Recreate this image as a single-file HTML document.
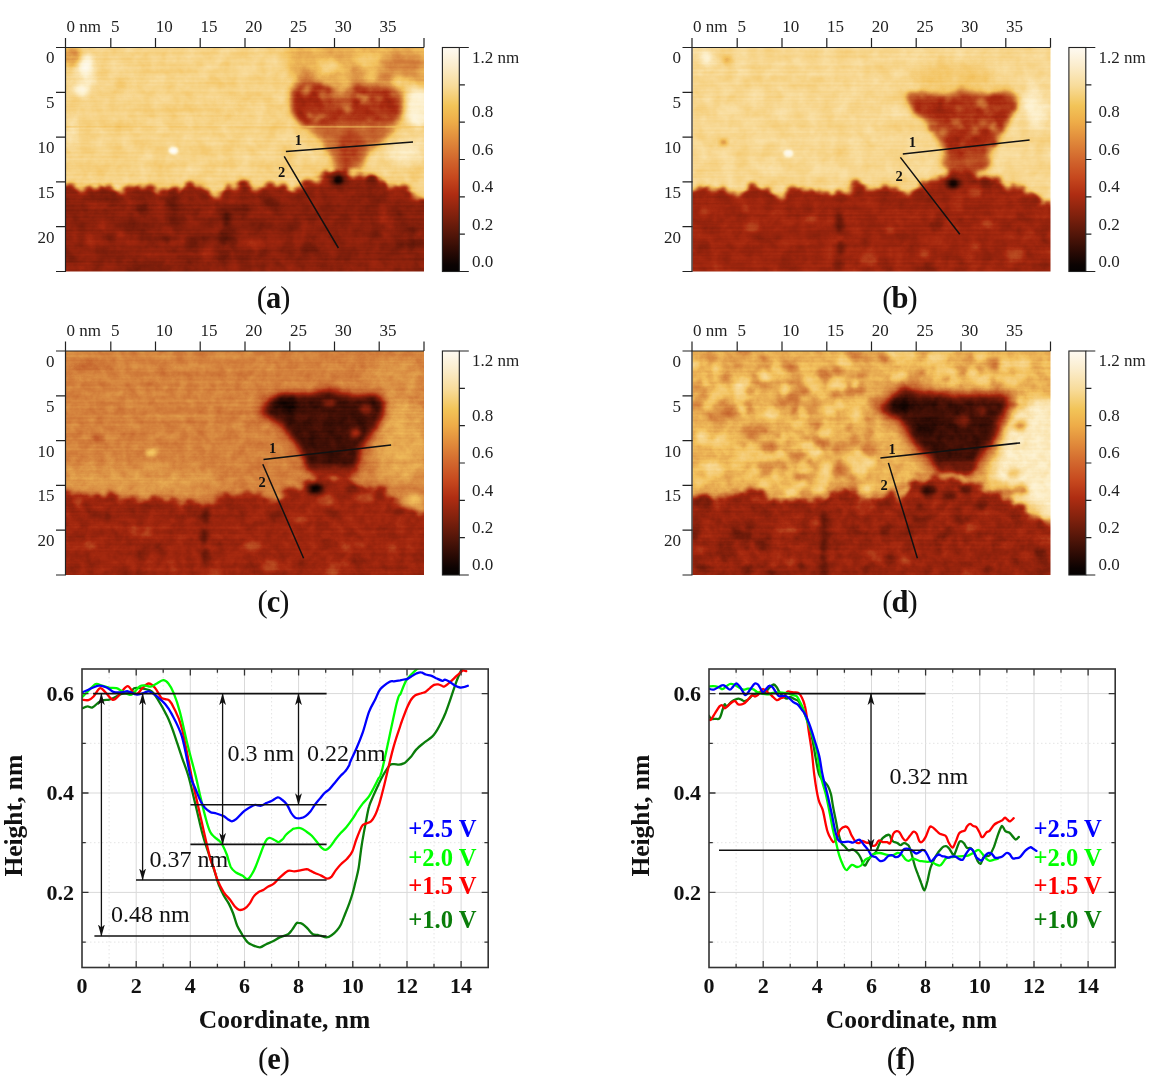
<!DOCTYPE html><html><head><meta charset="utf-8"><title>STM profiles</title><style>
html,body{margin:0;padding:0;background:#fff;width:1155px;height:1080px;overflow:hidden}
svg{display:block;position:absolute;left:0;top:0}
text{font-family:'Liberation Serif','Times New Roman',serif}
.tk{font-size:17px;fill:#222}
.bl{font-size:22px;font-weight:bold;fill:#111}
.at{font-size:25.5px;font-weight:bold;fill:#111}
.an{font-size:24px;fill:#111}
.lg{font-size:24.6px;font-weight:bold}
.pl{font-size:30.5px;fill:#111;letter-spacing:-1px}
.ln{font-size:14.5px;font-weight:bold;fill:#111}
</style></head><body>
<svg width="1155" height="1080" viewBox="0 0 1155 1080">
<rect width="1155" height="1080" fill="#fff"/>
<defs>
<linearGradient id="cbar" x1="0" y1="0" x2="0" y2="1"><stop offset="0.000" stop-color="rgb(254,250,242)"/><stop offset="0.080" stop-color="rgb(251,237,205)"/><stop offset="0.170" stop-color="rgb(248,220,155)"/><stop offset="0.260" stop-color="rgb(242,196,88)"/><stop offset="0.333" stop-color="rgb(238,172,72)"/><stop offset="0.500" stop-color="rgb(210,102,45)"/><stop offset="0.580" stop-color="rgb(198,72,30)"/><stop offset="0.655" stop-color="rgb(175,45,18)"/><stop offset="0.750" stop-color="rgb(128,33,13)"/><stop offset="0.833" stop-color="rgb(84,22,9)"/><stop offset="0.920" stop-color="rgb(38,9,4)"/><stop offset="0.970" stop-color="rgb(12,3,2)"/><stop offset="1.000" stop-color="rgb(5,2,2)"/></linearGradient>
<filter id="stm0" x="-5%" y="-5%" width="110%" height="110%" color-interpolation-filters="sRGB">
<feGaussianBlur in="SourceGraphic" stdDeviation="0.4" result="b"/>
<feTurbulence type="fractalNoise" baseFrequency="0.07" numOctaves="3" seed="3" result="n"/>
<feColorMatrix in="n" type="matrix" values="1 0 0 0 0 1 0 0 0 0 1 0 0 0 0 0 0 0 0 1" result="ng"/>
<feTurbulence type="fractalNoise" baseFrequency="0.004 0.45" numOctaves="1" seed="11" result="s"/>
<feColorMatrix in="s" type="matrix" values="1 0 0 0 0 1 0 0 0 0 1 0 0 0 0 0 0 0 0 1" result="sg"/>
<feComposite in="b" in2="ng" operator="arithmetic" k1="0" k2="1" k3="0.12" k4="-0.06" result="h1"/>
<feComposite in="h1" in2="sg" operator="arithmetic" k1="0" k2="1" k3="0.07" k4="-0.035" result="h"/>
<feComponentTransfer in="h"><feFuncR type="table" tableValues="0.000 0.048 0.095 0.143 0.191 0.239 0.286 0.334 0.382 0.430 0.477 0.525 0.573 0.621 0.664 0.688 0.712 0.736 0.760 0.784 0.808 0.832 0.856 0.880 0.904 0.928 0.952 0.958 0.963 0.967 0.972 0.977 0.982 0.987 0.992 0.993 0.995 0.996 0.997 0.999 1.000"/><feFuncG type="table" tableValues="0.000 0.011 0.023 0.034 0.045 0.057 0.068 0.080 0.091 0.102 0.114 0.125 0.136 0.148 0.167 0.216 0.265 0.315 0.364 0.413 0.463 0.512 0.561 0.611 0.660 0.709 0.759 0.782 0.805 0.828 0.850 0.873 0.895 0.918 0.940 0.951 0.961 0.970 0.980 0.990 1.000"/><feFuncB type="table" tableValues="0.000 0.004 0.009 0.013 0.017 0.021 0.026 0.030 0.034 0.038 0.043 0.047 0.051 0.055 0.064 0.089 0.114 0.139 0.164 0.189 0.214 0.239 0.264 0.289 0.314 0.339 0.364 0.417 0.471 0.526 0.580 0.635 0.689 0.743 0.798 0.832 0.866 0.899 0.933 0.966 1.000"/><feFuncA type="linear" slope="0" intercept="1"/></feComponentTransfer>
</filter>
<clipPath id="clip0"><rect x="66" y="47.5" width="358" height="224"/></clipPath>
<filter id="stm1" x="-5%" y="-5%" width="110%" height="110%" color-interpolation-filters="sRGB">
<feGaussianBlur in="SourceGraphic" stdDeviation="0.4" result="b"/>
<feTurbulence type="fractalNoise" baseFrequency="0.07" numOctaves="3" seed="4" result="n"/>
<feColorMatrix in="n" type="matrix" values="1 0 0 0 0 1 0 0 0 0 1 0 0 0 0 0 0 0 0 1" result="ng"/>
<feTurbulence type="fractalNoise" baseFrequency="0.004 0.45" numOctaves="1" seed="12" result="s"/>
<feColorMatrix in="s" type="matrix" values="1 0 0 0 0 1 0 0 0 0 1 0 0 0 0 0 0 0 0 1" result="sg"/>
<feComposite in="b" in2="ng" operator="arithmetic" k1="0" k2="1" k3="0.11" k4="-0.055" result="h1"/>
<feComposite in="h1" in2="sg" operator="arithmetic" k1="0" k2="1" k3="0.07" k4="-0.035" result="h"/>
<feComponentTransfer in="h"><feFuncR type="table" tableValues="0.000 0.048 0.095 0.143 0.191 0.239 0.286 0.334 0.382 0.430 0.477 0.525 0.573 0.621 0.664 0.688 0.712 0.736 0.760 0.784 0.808 0.832 0.856 0.880 0.904 0.928 0.952 0.958 0.963 0.967 0.972 0.977 0.982 0.987 0.992 0.993 0.995 0.996 0.997 0.999 1.000"/><feFuncG type="table" tableValues="0.000 0.011 0.023 0.034 0.045 0.057 0.068 0.080 0.091 0.102 0.114 0.125 0.136 0.148 0.167 0.216 0.265 0.315 0.364 0.413 0.463 0.512 0.561 0.611 0.660 0.709 0.759 0.782 0.805 0.828 0.850 0.873 0.895 0.918 0.940 0.951 0.961 0.970 0.980 0.990 1.000"/><feFuncB type="table" tableValues="0.000 0.004 0.009 0.013 0.017 0.021 0.026 0.030 0.034 0.038 0.043 0.047 0.051 0.055 0.064 0.089 0.114 0.139 0.164 0.189 0.214 0.239 0.264 0.289 0.314 0.339 0.364 0.417 0.471 0.526 0.580 0.635 0.689 0.743 0.798 0.832 0.866 0.899 0.933 0.966 1.000"/><feFuncA type="linear" slope="0" intercept="1"/></feComponentTransfer>
</filter>
<clipPath id="clip1"><rect x="692.5" y="47.5" width="358" height="224"/></clipPath>
<filter id="stm2" x="-5%" y="-5%" width="110%" height="110%" color-interpolation-filters="sRGB">
<feGaussianBlur in="SourceGraphic" stdDeviation="0.4" result="b"/>
<feTurbulence type="fractalNoise" baseFrequency="0.1" numOctaves="3" seed="5" result="n"/>
<feColorMatrix in="n" type="matrix" values="1 0 0 0 0 1 0 0 0 0 1 0 0 0 0 0 0 0 0 1" result="ng"/>
<feTurbulence type="fractalNoise" baseFrequency="0.004 0.45" numOctaves="1" seed="13" result="s"/>
<feColorMatrix in="s" type="matrix" values="1 0 0 0 0 1 0 0 0 0 1 0 0 0 0 0 0 0 0 1" result="sg"/>
<feComposite in="b" in2="ng" operator="arithmetic" k1="0" k2="1" k3="0.1" k4="-0.05" result="h1"/>
<feComposite in="h1" in2="sg" operator="arithmetic" k1="0" k2="1" k3="0.06" k4="-0.03" result="h"/>
<feComponentTransfer in="h"><feFuncR type="table" tableValues="0.000 0.048 0.095 0.143 0.191 0.239 0.286 0.334 0.382 0.430 0.477 0.525 0.573 0.621 0.664 0.688 0.712 0.736 0.760 0.784 0.808 0.832 0.856 0.880 0.904 0.928 0.952 0.958 0.963 0.967 0.972 0.977 0.982 0.987 0.992 0.993 0.995 0.996 0.997 0.999 1.000"/><feFuncG type="table" tableValues="0.000 0.011 0.023 0.034 0.045 0.057 0.068 0.080 0.091 0.102 0.114 0.125 0.136 0.148 0.167 0.216 0.265 0.315 0.364 0.413 0.463 0.512 0.561 0.611 0.660 0.709 0.759 0.782 0.805 0.828 0.850 0.873 0.895 0.918 0.940 0.951 0.961 0.970 0.980 0.990 1.000"/><feFuncB type="table" tableValues="0.000 0.004 0.009 0.013 0.017 0.021 0.026 0.030 0.034 0.038 0.043 0.047 0.051 0.055 0.064 0.089 0.114 0.139 0.164 0.189 0.214 0.239 0.264 0.289 0.314 0.339 0.364 0.417 0.471 0.526 0.580 0.635 0.689 0.743 0.798 0.832 0.866 0.899 0.933 0.966 1.000"/><feFuncA type="linear" slope="0" intercept="1"/></feComponentTransfer>
</filter>
<clipPath id="clip2"><rect x="66" y="351" width="358" height="224"/></clipPath>
<filter id="stm3" x="-5%" y="-5%" width="110%" height="110%" color-interpolation-filters="sRGB">
<feGaussianBlur in="SourceGraphic" stdDeviation="0.4" result="b"/>
<feTurbulence type="fractalNoise" baseFrequency="0.1" numOctaves="3" seed="6" result="n"/>
<feColorMatrix in="n" type="matrix" values="1 0 0 0 0 1 0 0 0 0 1 0 0 0 0 0 0 0 0 1" result="ng"/>
<feTurbulence type="fractalNoise" baseFrequency="0.004 0.45" numOctaves="1" seed="14" result="s"/>
<feColorMatrix in="s" type="matrix" values="1 0 0 0 0 1 0 0 0 0 1 0 0 0 0 0 0 0 0 1" result="sg"/>
<feComposite in="b" in2="ng" operator="arithmetic" k1="0" k2="1" k3="0.12" k4="-0.06" result="h1"/>
<feComposite in="h1" in2="sg" operator="arithmetic" k1="0" k2="1" k3="0.06" k4="-0.03" result="h"/>
<feComponentTransfer in="h"><feFuncR type="table" tableValues="0.000 0.048 0.095 0.143 0.191 0.239 0.286 0.334 0.382 0.430 0.477 0.525 0.573 0.621 0.664 0.688 0.712 0.736 0.760 0.784 0.808 0.832 0.856 0.880 0.904 0.928 0.952 0.958 0.963 0.967 0.972 0.977 0.982 0.987 0.992 0.993 0.995 0.996 0.997 0.999 1.000"/><feFuncG type="table" tableValues="0.000 0.011 0.023 0.034 0.045 0.057 0.068 0.080 0.091 0.102 0.114 0.125 0.136 0.148 0.167 0.216 0.265 0.315 0.364 0.413 0.463 0.512 0.561 0.611 0.660 0.709 0.759 0.782 0.805 0.828 0.850 0.873 0.895 0.918 0.940 0.951 0.961 0.970 0.980 0.990 1.000"/><feFuncB type="table" tableValues="0.000 0.004 0.009 0.013 0.017 0.021 0.026 0.030 0.034 0.038 0.043 0.047 0.051 0.055 0.064 0.089 0.114 0.139 0.164 0.189 0.214 0.239 0.264 0.289 0.314 0.339 0.364 0.417 0.471 0.526 0.580 0.635 0.689 0.743 0.798 0.832 0.866 0.899 0.933 0.966 1.000"/><feFuncA type="linear" slope="0" intercept="1"/></feComponentTransfer>
</filter>
<clipPath id="clip3"><rect x="692.5" y="351" width="358" height="224"/></clipPath>
<clipPath id="cpe"><rect x="82" y="669" width="406.5" height="298.5"/></clipPath>
<clipPath id="cpf"><rect x="709" y="669" width="406" height="298.5"/></clipPath>
<marker id="ah" viewBox="0 0 12 8" refX="11.5" refY="4" markerWidth="12" markerHeight="8" markerUnits="userSpaceOnUse" orient="auto-start-reverse"><path d="M0,0.6 L12,4 L0,7.4 L3,4Z" fill="#111"/></marker>
<filter id="bl1_5" x="-30%" y="-30%" width="160%" height="160%" color-interpolation-filters="sRGB"><feGaussianBlur stdDeviation="1.5"/></filter>
<filter id="bl1_6" x="-30%" y="-30%" width="160%" height="160%" color-interpolation-filters="sRGB"><feGaussianBlur stdDeviation="1.6"/></filter>
<filter id="bl2" x="-30%" y="-30%" width="160%" height="160%" color-interpolation-filters="sRGB"><feGaussianBlur stdDeviation="2"/></filter>
<filter id="bl2_2" x="-30%" y="-30%" width="160%" height="160%" color-interpolation-filters="sRGB"><feGaussianBlur stdDeviation="2.2"/></filter>
<filter id="bl2_4" x="-30%" y="-30%" width="160%" height="160%" color-interpolation-filters="sRGB"><feGaussianBlur stdDeviation="2.4"/></filter>
<filter id="bl2_5" x="-30%" y="-30%" width="160%" height="160%" color-interpolation-filters="sRGB"><feGaussianBlur stdDeviation="2.5"/></filter>
<filter id="bl3" x="-30%" y="-30%" width="160%" height="160%" color-interpolation-filters="sRGB"><feGaussianBlur stdDeviation="3"/></filter>
<filter id="bl3_4" x="-30%" y="-30%" width="160%" height="160%" color-interpolation-filters="sRGB"><feGaussianBlur stdDeviation="3.4"/></filter>
<filter id="bl3_5" x="-30%" y="-30%" width="160%" height="160%" color-interpolation-filters="sRGB"><feGaussianBlur stdDeviation="3.5"/></filter>
<filter id="bl4" x="-30%" y="-30%" width="160%" height="160%" color-interpolation-filters="sRGB"><feGaussianBlur stdDeviation="4"/></filter>
<filter id="bl4_5" x="-30%" y="-30%" width="160%" height="160%" color-interpolation-filters="sRGB"><feGaussianBlur stdDeviation="4.5"/></filter>
<filter id="bl5" x="-30%" y="-30%" width="160%" height="160%" color-interpolation-filters="sRGB"><feGaussianBlur stdDeviation="5"/></filter>
<filter id="bl6" x="-30%" y="-30%" width="160%" height="160%" color-interpolation-filters="sRGB"><feGaussianBlur stdDeviation="6"/></filter>
<filter id="bl7" x="-30%" y="-30%" width="160%" height="160%" color-interpolation-filters="sRGB"><feGaussianBlur stdDeviation="7"/></filter>
</defs>
<g clip-path="url(#clip0)"><g filter="url(#stm0)" transform="translate(66,47.5)">
<rect x="-12" y="-12" width="382" height="248" fill="rgb(185,185,185)"/>
<g filter="url(#bl4)">
<path d="M232,-5C254.2,-11.8 342.8,-12.5 365,-5C387.2,2.5 369.2,33.8 365,40C360.8,46.2 350.8,33.7 340,32C329.2,30.3 314.2,30.3 300,30C285.8,29.7 266.3,29 255,30C243.7,31 235.8,41.8 232,36C228.2,30.2 209.8,1.8 232,-5Z" fill="rgb(158,158,158)"/>
<ellipse cx="338" cy="16" rx="20" ry="13" fill="rgb(133,133,133)"/>
</g>
<g filter="url(#bl3)">
<ellipse cx="262" cy="20" rx="9" ry="8" fill="rgb(186,186,186)"/>
<ellipse cx="240" cy="28" rx="8" ry="6" fill="rgb(140,140,140)"/>
<ellipse cx="318" cy="28" rx="9" ry="6" fill="rgb(140,140,140)"/>
<ellipse cx="290" cy="22" rx="6" ry="5" fill="rgb(143,143,143)"/>
<ellipse cx="300" cy="12" rx="10" ry="7" fill="rgb(178,178,178)"/>
</g>
<g filter="url(#bl4_5)">
<path d="M226,40C228.3,35.7 234.3,33.2 240,32C245.7,30.8 253.8,33.3 260,33C266.2,32.7 270.3,29.8 277,30C283.7,30.2 292.5,32.7 300,34C307.5,35.3 315.8,36 322,38C328.2,40 334.5,42 337,46C339.5,50 338.2,57.3 337,62C335.8,66.7 332.2,71 330,74C327.8,77 338,79 324,80C310,81 260.7,81.3 246,80C231.3,78.7 239.3,75.7 236,72C232.7,68.3 227.7,63.3 226,58C224.3,52.7 223.7,44.3 226,40Z" fill="rgb(107,107,107)"/>
</g>
<g filter="url(#bl3)">
<ellipse cx="243" cy="57" rx="17" ry="21" fill="rgb(89,89,89)"/>
<ellipse cx="315" cy="60" rx="19" ry="17" fill="rgb(92,92,92)"/>
<ellipse cx="280" cy="70" rx="30" ry="9" fill="rgb(94,94,94)"/>
</g>
<g filter="url(#bl3_5)">
<ellipse cx="272" cy="36" rx="14" ry="12" fill="rgb(158,158,158)"/>
</g>
<g filter="url(#bl2)">
<ellipse cx="296" cy="50" rx="7" ry="6" fill="rgb(133,133,133)"/>
<ellipse cx="258" cy="48" rx="5" ry="5" fill="rgb(128,128,128)"/>
</g>
<g filter="url(#bl2_2)">
<ellipse cx="270.4" cy="65.5" rx="2" ry="1.6" fill="rgb(84,84,84)"/>
<ellipse cx="243.9" cy="68.1" rx="2.9" ry="2.7" fill="rgb(128,128,128)"/>
<ellipse cx="284.8" cy="43.4" rx="2.8" ry="2.9" fill="rgb(128,128,128)"/>
<ellipse cx="264.9" cy="43.5" rx="3.2" ry="1.9" fill="rgb(84,84,84)"/>
<ellipse cx="273" cy="64.5" rx="1.8" ry="1.4" fill="rgb(84,84,84)"/>
<ellipse cx="250" cy="72.5" rx="3.3" ry="3.6" fill="rgb(128,128,128)"/>
<ellipse cx="298.3" cy="44" rx="4.4" ry="2.4" fill="rgb(84,84,84)"/>
<ellipse cx="280.1" cy="46.1" rx="3" ry="2.1" fill="rgb(115,115,115)"/>
<ellipse cx="261.1" cy="42.1" rx="3.7" ry="2.8" fill="rgb(79,79,79)"/>
<ellipse cx="313.7" cy="51.2" rx="4.7" ry="2.8" fill="rgb(115,115,115)"/>
<ellipse cx="249.3" cy="54.9" rx="3.8" ry="3.3" fill="rgb(79,79,79)"/>
<ellipse cx="256.9" cy="74.2" rx="4.5" ry="2.2" fill="rgb(84,84,84)"/>
<ellipse cx="305.1" cy="73.3" rx="3.2" ry="2.7" fill="rgb(115,115,115)"/>
<ellipse cx="280.9" cy="61.2" rx="4" ry="3.4" fill="rgb(128,128,128)"/>
<ellipse cx="255.5" cy="69.2" rx="4" ry="2.4" fill="rgb(128,128,128)"/>
<ellipse cx="290.9" cy="54.5" rx="3.5" ry="3.3" fill="rgb(79,79,79)"/>
<ellipse cx="313.2" cy="77.5" rx="4.5" ry="3.1" fill="rgb(128,128,128)"/>
<ellipse cx="252.5" cy="43" rx="3.2" ry="3" fill="rgb(115,115,115)"/>
<ellipse cx="242.4" cy="39.7" rx="4.4" ry="3.5" fill="rgb(128,128,128)"/>
<ellipse cx="290.6" cy="41.6" rx="3.2" ry="2.9" fill="rgb(84,84,84)"/>
<ellipse cx="254.5" cy="74.6" rx="3.2" ry="1.7" fill="rgb(84,84,84)"/>
<ellipse cx="327.3" cy="46.4" rx="3.2" ry="3.1" fill="rgb(115,115,115)"/>
<ellipse cx="256" cy="43.3" rx="3.7" ry="2.8" fill="rgb(128,128,128)"/>
<ellipse cx="269.5" cy="43.1" rx="2.4" ry="2.1" fill="rgb(115,115,115)"/>
<ellipse cx="240.1" cy="43.9" rx="5.2" ry="3.5" fill="rgb(128,128,128)"/>
<ellipse cx="276.8" cy="64" rx="3.5" ry="2.1" fill="rgb(84,84,84)"/>
<ellipse cx="260.1" cy="55.8" rx="1.6" ry="1.5" fill="rgb(115,115,115)"/>
<ellipse cx="260.4" cy="76" rx="3.3" ry="2.9" fill="rgb(84,84,84)"/>
<ellipse cx="253.8" cy="40.6" rx="4.1" ry="3.1" fill="rgb(84,84,84)"/>
<ellipse cx="281.2" cy="48.1" rx="4" ry="2.1" fill="rgb(128,128,128)"/>
</g>
<g filter="url(#bl3)">
<path d="M247,79C258.7,76.8 312.2,76.8 324,79C335.8,81.2 322,86.8 318,92C314,97.2 304,105 300,110C296,115 298.7,119.7 294,122C289.3,124.3 276.8,126 272,124C267.2,122 268,115.3 265,110C262,104.7 257,97.2 254,92C251,86.8 235.3,81.2 247,79Z" fill="rgb(120,120,120)"/>
<ellipse cx="285" cy="95" rx="13" ry="14" fill="rgb(102,102,102)"/>
<ellipse cx="282" cy="112" rx="9" ry="9" fill="rgb(105,105,105)"/>
</g>
<g filter="url(#bl4)">
<ellipse cx="352" cy="60" rx="12" ry="20" fill="rgb(222,222,222)"/>
<ellipse cx="340" cy="105" rx="18" ry="14" fill="rgb(204,204,204)"/>
<ellipse cx="20" cy="28" rx="8" ry="18" fill="rgb(209,209,209)"/>
</g>
<g filter="url(#bl3)">
<ellipse cx="6" cy="9" rx="9" ry="11" fill="rgb(143,143,143)"/>
<ellipse cx="20" cy="17" rx="6" ry="10" fill="rgb(240,240,240)"/>
<ellipse cx="14" cy="42" rx="7" ry="6" fill="rgb(232,232,232)"/>
</g>
<g filter="url(#bl4)">
<ellipse cx="5" cy="80" rx="5" ry="12" fill="rgb(204,204,204)"/>
</g>
<g filter="url(#bl1_5)">
<ellipse cx="107.5" cy="103" rx="4.5" ry="3.5" fill="rgb(250,250,250)"/>
</g>
<g filter="url(#bl3)">
<ellipse cx="60" cy="40" rx="6" ry="5" fill="rgb(178,178,178)"/>
<ellipse cx="160" cy="60" rx="8" ry="6" fill="rgb(184,184,184)"/>
</g>
<g filter="url(#bl1_6)">
<path d="M-15,138.8C-12.8,121.9 -4.6,138.8 -2,138.8C0.6,138.8 -1.5,138.4 0.6,138.8C2.7,139.2 7.4,141.2 10.4,141.3C13.4,141.4 15.9,140.3 18.7,139.6C21.4,138.9 24.4,137.6 26.9,137.2C29.4,136.8 31.3,136.6 33.5,137.2C35.7,137.8 37.6,139.6 40.1,140.5C42.6,141.4 45.6,142.3 48.3,142.9C51,143.5 54,143.8 56.5,143.8C59,143.8 60.9,143.7 63.1,142.9C65.3,142.1 67.5,139.8 69.7,138.8C71.9,137.9 74.1,136.9 76.3,137.2C78.5,137.5 80.6,139.1 82.8,140.5C85,141.9 87.2,144.3 89.4,145.4C91.6,146.5 93.8,147.4 96,147C98.2,146.6 100.7,143.7 102.6,142.9C104.5,142.1 105.9,141.7 107.5,142.1C109.1,142.5 110.8,145.7 112.4,145.4C114.1,145.1 115.8,141.9 117.4,140.5C119.1,139.1 120.7,137.5 122.3,137.2C123.9,136.9 125.3,137.7 127.2,138.8C129.1,139.9 131.6,142.7 133.8,143.8C136,144.9 138.2,144.9 140.4,145.4C142.6,145.9 144.8,147 147,147C149.2,147 151.4,146.2 153.6,145.4C155.8,144.6 157.6,143.5 160.1,142.1C162.6,140.7 166.1,138.1 168.4,137.2C170.7,136.3 171.7,136.4 174,136.5C176.3,136.6 179.5,137.4 182.2,137.9C184.9,138.4 187.7,139.1 190.4,139.5C193.2,139.9 195.9,140.3 198.7,140.3C201.4,140.3 204.2,139.5 206.9,139.5C209.6,139.5 212.3,139.6 215.1,140.3C217.8,141 220.9,142.9 223.4,143.6C225.9,144.3 227.7,144.8 229.9,144.5C232.1,144.2 234.3,143.5 236.5,142C238.7,140.5 240.9,137.3 243.1,135.4C245.3,133.5 247.5,131.9 249.7,130.5C251.9,129.1 254,128 256.2,127.2C258.4,126.4 260.6,125.9 262.8,125.5C265,125.1 267.2,124.7 269.4,124.7C271.6,124.7 273.8,125.6 276,125.5C278.2,125.4 280.4,124 282.6,123.9C284.8,123.8 287,124.4 289.2,124.7C291.4,125 293.5,125.1 295.7,125.5C297.9,125.9 300.1,126.7 302.3,127.2C304.5,127.8 306.7,128 308.9,128.8C311.1,129.6 313.3,130.7 315.5,132.1C317.7,133.5 319.8,136 322,137C324.2,138 326.4,137.3 328.6,137.9C330.8,138.5 333,139.4 335.2,140.3C337.4,141.2 339.6,142.5 341.8,143.6C344,144.7 346.2,145.8 348.4,146.9C350.6,148 353.4,149.5 355,150.2C356.6,150.9 357,150.7 358.2,151C359.4,151.3 359.2,151.8 362,152C364.8,152.2 372.8,137.3 375,152C377.2,166.7 440,225.3 375,240C310,254.7 50,256.9 -15,240C-80,223.1 -17.2,155.7 -15,138.8Z" fill="rgb(73,73,73)"/>
</g>
<g filter="url(#bl2)">
<ellipse cx="4.2" cy="139.1" rx="4.6" ry="3" fill="rgb(73,73,73)"/>
<ellipse cx="15.9" cy="141.3" rx="4.8" ry="3.9" fill="rgb(184,184,184)"/>
<ellipse cx="28.9" cy="138.3" rx="5.1" ry="3.7" fill="rgb(184,184,184)"/>
<ellipse cx="42.9" cy="140.6" rx="3.7" ry="3.4" fill="rgb(73,73,73)"/>
<ellipse cx="55.9" cy="144.6" rx="3.9" ry="2.8" fill="rgb(184,184,184)"/>
<ellipse cx="63" cy="142.1" rx="6.2" ry="4.1" fill="rgb(73,73,73)"/>
<ellipse cx="77" cy="138.4" rx="4.2" ry="2.9" fill="rgb(184,184,184)"/>
<ellipse cx="84.7" cy="141.1" rx="5.9" ry="3.8" fill="rgb(73,73,73)"/>
<ellipse cx="97.4" cy="145.3" rx="5.3" ry="4.5" fill="rgb(73,73,73)"/>
<ellipse cx="109.4" cy="142.6" rx="5.7" ry="3.7" fill="rgb(73,73,73)"/>
<ellipse cx="123.5" cy="137" rx="4.3" ry="3.1" fill="rgb(73,73,73)"/>
<ellipse cx="133.6" cy="142.9" rx="4.7" ry="3.8" fill="rgb(73,73,73)"/>
<ellipse cx="140.4" cy="144.9" rx="4" ry="2.8" fill="rgb(73,73,73)"/>
<ellipse cx="150.8" cy="147.3" rx="6.1" ry="4" fill="rgb(184,184,184)"/>
<ellipse cx="163.1" cy="139.7" rx="3.3" ry="3.1" fill="rgb(73,73,73)"/>
<ellipse cx="170.1" cy="138.3" rx="6.1" ry="4.2" fill="rgb(184,184,184)"/>
<ellipse cx="177.7" cy="136.4" rx="5.9" ry="3.8" fill="rgb(73,73,73)"/>
<ellipse cx="190" cy="140.6" rx="5" ry="4" fill="rgb(184,184,184)"/>
<ellipse cx="204.1" cy="138.9" rx="5.6" ry="4.4" fill="rgb(73,73,73)"/>
<ellipse cx="217.1" cy="140.3" rx="4.9" ry="3.9" fill="rgb(73,73,73)"/>
<ellipse cx="232.3" cy="143" rx="4.3" ry="3.1" fill="rgb(73,73,73)"/>
<ellipse cx="241.3" cy="136.3" rx="6.7" ry="4.3" fill="rgb(73,73,73)"/>
<ellipse cx="251.2" cy="131" rx="6.1" ry="4.3" fill="rgb(184,184,184)"/>
<ellipse cx="259.7" cy="125.7" rx="3.1" ry="2.8" fill="rgb(73,73,73)"/>
<ellipse cx="272.2" cy="124.5" rx="3.5" ry="2.6" fill="rgb(73,73,73)"/>
<ellipse cx="280.2" cy="123.9" rx="4.4" ry="3.2" fill="rgb(73,73,73)"/>
<ellipse cx="287.8" cy="125.9" rx="6.4" ry="4.5" fill="rgb(184,184,184)"/>
<ellipse cx="299.3" cy="127.5" rx="5.4" ry="3.5" fill="rgb(184,184,184)"/>
<ellipse cx="313.1" cy="131.7" rx="4" ry="2.6" fill="rgb(184,184,184)"/>
<ellipse cx="325.3" cy="138.5" rx="3.9" ry="3.5" fill="rgb(184,184,184)"/>
<ellipse cx="338.3" cy="141" rx="5.3" ry="4.1" fill="rgb(73,73,73)"/>
<ellipse cx="350.1" cy="148.7" rx="5" ry="3.2" fill="rgb(184,184,184)"/>
</g>
<g filter="url(#bl3)">
<ellipse cx="5" cy="145.9" rx="7" ry="3" fill="rgb(74,74,74)"/>
<ellipse cx="22" cy="144.6" rx="7" ry="3" fill="rgb(74,74,74)"/>
<ellipse cx="39" cy="145.9" rx="7" ry="3" fill="rgb(74,74,74)"/>
<ellipse cx="56" cy="149.7" rx="7" ry="3" fill="rgb(74,74,74)"/>
<ellipse cx="73" cy="144" rx="7" ry="3" fill="rgb(74,74,74)"/>
<ellipse cx="90" cy="151.5" rx="7" ry="3" fill="rgb(74,74,74)"/>
<ellipse cx="107" cy="148.2" rx="7" ry="3" fill="rgb(74,74,74)"/>
<ellipse cx="124" cy="143.8" rx="7" ry="3" fill="rgb(74,74,74)"/>
<ellipse cx="141" cy="151.5" rx="7" ry="3" fill="rgb(74,74,74)"/>
<ellipse cx="158" cy="149.2" rx="7" ry="3" fill="rgb(74,74,74)"/>
<ellipse cx="175" cy="142.7" rx="7" ry="3" fill="rgb(74,74,74)"/>
<ellipse cx="192" cy="145.7" rx="7" ry="3" fill="rgb(74,74,74)"/>
<ellipse cx="209" cy="145.7" rx="7" ry="3" fill="rgb(74,74,74)"/>
<ellipse cx="226" cy="150" rx="7" ry="3" fill="rgb(74,74,74)"/>
<ellipse cx="243" cy="141.5" rx="7" ry="3" fill="rgb(74,74,74)"/>
<ellipse cx="260" cy="132.2" rx="7" ry="3" fill="rgb(74,74,74)"/>
<ellipse cx="277" cy="131.3" rx="7" ry="3" fill="rgb(74,74,74)"/>
<ellipse cx="294" cy="131.3" rx="7" ry="3" fill="rgb(74,74,74)"/>
<ellipse cx="311" cy="135.8" rx="7" ry="3" fill="rgb(74,74,74)"/>
<ellipse cx="328" cy="143.8" rx="7" ry="3" fill="rgb(74,74,74)"/>
<ellipse cx="345" cy="151.2" rx="7" ry="3" fill="rgb(74,74,74)"/>
</g>
<g filter="url(#bl2)">
<ellipse cx="162" cy="187" rx="8.2" ry="6.1" fill="rgb(64,64,64)"/>
<ellipse cx="66.1" cy="183" rx="7.8" ry="3.9" fill="rgb(69,69,69)"/>
<ellipse cx="50.8" cy="185.3" rx="8.8" ry="6.2" fill="rgb(84,84,84)"/>
<ellipse cx="345.4" cy="194.9" rx="5.4" ry="3.7" fill="rgb(59,59,59)"/>
<ellipse cx="21.3" cy="156" rx="3.4" ry="3.3" fill="rgb(84,84,84)"/>
<ellipse cx="211.6" cy="156.4" rx="4.1" ry="2.5" fill="rgb(59,59,59)"/>
<ellipse cx="163.7" cy="163.4" rx="11.2" ry="7.5" fill="rgb(69,69,69)"/>
<ellipse cx="112.9" cy="159.3" rx="3.7" ry="4" fill="rgb(84,84,84)"/>
<ellipse cx="38.6" cy="164.4" rx="2.7" ry="2.9" fill="rgb(64,64,64)"/>
<ellipse cx="75.1" cy="216.5" rx="7.4" ry="4.1" fill="rgb(59,59,59)"/>
<ellipse cx="202.7" cy="156.7" rx="6.4" ry="4.6" fill="rgb(59,59,59)"/>
<ellipse cx="345.1" cy="203.7" rx="3.4" ry="2.3" fill="rgb(59,59,59)"/>
<ellipse cx="166.4" cy="180.9" rx="5.9" ry="5.2" fill="rgb(64,64,64)"/>
<ellipse cx="150.1" cy="172.2" rx="6.9" ry="3" fill="rgb(69,69,69)"/>
<ellipse cx="67.1" cy="223.7" rx="6.9" ry="3.7" fill="rgb(64,64,64)"/>
<ellipse cx="76.3" cy="161.7" rx="6.8" ry="4.9" fill="rgb(59,59,59)"/>
<ellipse cx="26.6" cy="157.5" rx="5" ry="4.6" fill="rgb(84,84,84)"/>
<ellipse cx="45.5" cy="189.3" rx="6.3" ry="5.4" fill="rgb(64,64,64)"/>
<ellipse cx="111.3" cy="159.2" rx="7.5" ry="4" fill="rgb(64,64,64)"/>
<ellipse cx="245.9" cy="172.6" rx="4.6" ry="3.4" fill="rgb(59,59,59)"/>
<ellipse cx="13.9" cy="220.9" rx="5.1" ry="2.9" fill="rgb(84,84,84)"/>
<ellipse cx="105" cy="154.7" rx="5.6" ry="4.6" fill="rgb(59,59,59)"/>
<ellipse cx="100.3" cy="217.1" rx="3.3" ry="2.8" fill="rgb(84,84,84)"/>
<ellipse cx="100.9" cy="184.6" rx="6.7" ry="5.2" fill="rgb(84,84,84)"/>
<ellipse cx="351" cy="195.2" rx="7.4" ry="4.2" fill="rgb(59,59,59)"/>
<ellipse cx="330.6" cy="179.9" rx="4.7" ry="2.9" fill="rgb(59,59,59)"/>
<ellipse cx="172.6" cy="201.4" rx="6.4" ry="2.9" fill="rgb(69,69,69)"/>
<ellipse cx="263.8" cy="215.6" rx="8.2" ry="6.1" fill="rgb(69,69,69)"/>
<ellipse cx="126" cy="197.6" rx="9.9" ry="5.8" fill="rgb(59,59,59)"/>
<ellipse cx="309.1" cy="188.1" rx="6.3" ry="5.1" fill="rgb(59,59,59)"/>
<ellipse cx="28.7" cy="193.7" rx="10.6" ry="7.1" fill="rgb(84,84,84)"/>
<ellipse cx="334.5" cy="198.3" rx="5.7" ry="4.3" fill="rgb(59,59,59)"/>
<ellipse cx="8" cy="220.4" rx="4.5" ry="3.1" fill="rgb(84,84,84)"/>
<ellipse cx="107.8" cy="197" rx="3.6" ry="3.9" fill="rgb(84,84,84)"/>
<ellipse cx="178.4" cy="160.3" rx="4.8" ry="4.3" fill="rgb(64,64,64)"/>
<ellipse cx="315.1" cy="172.3" rx="5.9" ry="3.9" fill="rgb(84,84,84)"/>
<ellipse cx="125.6" cy="215.2" rx="2.7" ry="3.2" fill="rgb(64,64,64)"/>
<ellipse cx="40.4" cy="179.6" rx="9.9" ry="5.7" fill="rgb(84,84,84)"/>
<ellipse cx="240.6" cy="200.2" rx="8.5" ry="5.2" fill="rgb(59,59,59)"/>
<ellipse cx="99.6" cy="191" rx="6.2" ry="4.7" fill="rgb(59,59,59)"/>
<ellipse cx="229.5" cy="174" rx="5" ry="2.8" fill="rgb(64,64,64)"/>
<ellipse cx="285.3" cy="222.7" rx="3.1" ry="2.9" fill="rgb(69,69,69)"/>
<ellipse cx="343.1" cy="197.5" rx="4.3" ry="2.7" fill="rgb(59,59,59)"/>
<ellipse cx="270.3" cy="184.9" rx="3" ry="2.9" fill="rgb(64,64,64)"/>
<ellipse cx="140.9" cy="206.5" rx="6.4" ry="7.3" fill="rgb(84,84,84)"/>
<ellipse cx="46.5" cy="178.1" rx="8.2" ry="4.6" fill="rgb(69,69,69)"/>
<ellipse cx="166" cy="194.7" rx="5" ry="3.7" fill="rgb(59,59,59)"/>
<ellipse cx="76.4" cy="215.6" rx="11" ry="6.4" fill="rgb(69,69,69)"/>
<ellipse cx="93.8" cy="200.3" rx="3.4" ry="1.9" fill="rgb(69,69,69)"/>
<ellipse cx="197" cy="204.5" rx="4.4" ry="5" fill="rgb(59,59,59)"/>
<ellipse cx="190.9" cy="197.7" rx="8.2" ry="7.6" fill="rgb(84,84,84)"/>
<ellipse cx="338.6" cy="181.4" rx="6.6" ry="5.3" fill="rgb(69,69,69)"/>
<ellipse cx="297.6" cy="187.2" rx="4.2" ry="3.7" fill="rgb(69,69,69)"/>
<ellipse cx="111.6" cy="172" rx="9.7" ry="4.9" fill="rgb(64,64,64)"/>
<ellipse cx="346.7" cy="184" rx="5.4" ry="4.8" fill="rgb(59,59,59)"/>
<ellipse cx="272.6" cy="132.5" rx="9" ry="7" fill="rgb(51,51,51)"/>
</g>
<g filter="url(#bl1_5)">
<ellipse cx="272.6" cy="132.5" rx="4.5" ry="4" fill="rgb(5,5,5)"/>
</g>
<g filter="url(#bl2)">
<ellipse cx="305.6" cy="133.8" rx="6" ry="6" fill="rgb(64,64,64)"/>
<ellipse cx="160.6" cy="172" rx="4" ry="8" fill="rgb(41,41,41)"/>
<ellipse cx="158" cy="190" rx="4" ry="8" fill="rgb(51,51,51)"/>
</g>
<g filter="url(#bl2_5)">
<ellipse cx="159" cy="210" rx="4" ry="9" fill="rgb(56,56,56)"/>
</g>
<g>
<rect x="0" y="79" width="358" height="0.9" fill="rgb(168,168,168)"/>
</g>
</g></g>
<path d="M56,47.5H424 M65.5,47.5V271.5" stroke="#222" stroke-width="1.2" fill="none"/>
<path d="M65.5,38V47.5M110.8,38V47.5M155.5,38V47.5M200.2,38V47.5M245,38V47.5M289.8,38V47.5M334.5,38V47.5M379.2,38V47.5M424,38V47.5M56,92.3H66M56,137.1H66M56,181.9H66M56,226.7H66M56,271.5H66" stroke="#222" stroke-width="1.2" fill="none"/>
<text class="tk" x="66.5" y="32.1">0 nm</text>
<text class="tk" x="111" y="32.1">5</text>
<text class="tk" x="155.7" y="32.1">10</text>
<text class="tk" x="200.4" y="32.1">15</text>
<text class="tk" x="245.2" y="32.1">20</text>
<text class="tk" x="289.9" y="32.1">25</text>
<text class="tk" x="334.7" y="32.1">30</text>
<text class="tk" x="379.4" y="32.1">35</text>
<text class="tk" x="54.5" y="63.4" text-anchor="end">0</text>
<text class="tk" x="54.5" y="108.2" text-anchor="end">5</text>
<text class="tk" x="54.5" y="153" text-anchor="end">10</text>
<text class="tk" x="54.5" y="197.8" text-anchor="end">15</text>
<text class="tk" x="54.5" y="242.6" text-anchor="end">20</text>
<rect x="442.4" y="47.5" width="16.9" height="224" fill="url(#cbar)" stroke="#222" stroke-width="1.1"/>
<path d="M459.3,47.5H468.8M459.3,84.8H464.9M459.3,122.2H464.9M459.3,159.5H464.9M459.3,196.8H464.9M459.3,234.2H464.9M459.3,271.5H468.8" stroke="#222" stroke-width="1.2" fill="none"/>
<text class="tk" x="472" y="62.8">1.2 nm</text>
<text class="tk" x="472" y="117.4">0.8</text>
<text class="tk" x="472" y="154.8">0.6</text>
<text class="tk" x="472" y="192.1">0.4</text>
<text class="tk" x="472" y="229.5">0.2</text>
<text class="tk" x="472" y="266.9">0.0</text>
<path d="M285.9,151.5L413,142M284.2,156.3L338.4,248" stroke="#111" stroke-width="1.5" fill="none"/>
<text class="ln" x="298.4" y="144.9" text-anchor="middle">1</text>
<text class="ln" x="281.6" y="177.4" text-anchor="middle">2</text>
<text class="pl" x="273" y="308.3" text-anchor="middle">(<tspan font-weight="bold">a</tspan>)</text>
<g clip-path="url(#clip1)"><g filter="url(#stm1)" transform="translate(692.5,47.5)">
<rect x="-12" y="-12" width="382" height="248" fill="rgb(190,190,190)"/>
<g filter="url(#bl5)">
<ellipse cx="262" cy="30" rx="40" ry="14" fill="rgb(173,173,173)"/>
</g>
<g filter="url(#bl3_5)">
<path d="M214,49C214.6,46.2 221,45.4 225.6,45C230.2,44.6 236.3,46.1 241.6,46.6C246.9,47.1 253.1,48.8 257.6,48C262.1,47.2 264.8,42.5 268.8,42C272.8,41.5 276.5,44.2 281.6,45C286.7,45.8 293.9,46.9 299.2,46.6C304.5,46.4 309.7,43.3 313.7,43.5C317.7,43.7 321.3,46 323,48C324.7,50 325,51.6 324,55.2C323,58.8 319.3,64.8 317,69.6C314.7,74.4 312.7,79.5 310,84C307.3,88.5 303.5,92.5 301,96.8C298.5,101.1 296.8,106.1 295,109.6C293.2,113 296.2,116.2 290,117.5C283.8,118.8 264.5,120.2 258,117.5C251.5,114.8 253.5,106.6 251,101.6C248.5,96.5 246,92.3 243,87.2C240,82.1 236.5,75.5 233,71.2C229.5,66.9 225.2,65.3 222,61.6C218.8,57.9 213.4,51.8 214,49Z" fill="rgb(94,94,94)"/>
</g>
<g filter="url(#bl3)">
<ellipse cx="232" cy="60" rx="12" ry="9" fill="rgb(92,92,92)"/>
<ellipse cx="310" cy="60" rx="10" ry="12" fill="rgb(94,94,94)"/>
<ellipse cx="270" cy="78" rx="18" ry="12" fill="rgb(94,94,94)"/>
</g>
<g filter="url(#bl2)">
<ellipse cx="260.8" cy="50.4" rx="6" ry="4" fill="rgb(128,128,128)"/>
<ellipse cx="289.6" cy="55.2" rx="6" ry="5" fill="rgb(133,133,133)"/>
<ellipse cx="300.8" cy="79.2" rx="5" ry="5" fill="rgb(148,148,148)"/>
<ellipse cx="250" cy="85" rx="5" ry="5" fill="rgb(128,128,128)"/>
<ellipse cx="226.1" cy="61.2" rx="3.5" ry="2.1" fill="rgb(79,79,79)"/>
<ellipse cx="305.7" cy="80.4" rx="5.2" ry="2.9" fill="rgb(79,79,79)"/>
<ellipse cx="274.4" cy="96.5" rx="3.3" ry="2.8" fill="rgb(82,82,82)"/>
<ellipse cx="239" cy="53.1" rx="3.1" ry="1.4" fill="rgb(82,82,82)"/>
<ellipse cx="263.6" cy="74.7" rx="4.4" ry="2.7" fill="rgb(128,128,128)"/>
<ellipse cx="294.8" cy="83.2" rx="4" ry="2.6" fill="rgb(82,82,82)"/>
<ellipse cx="248" cy="52.9" rx="4.3" ry="2.4" fill="rgb(79,79,79)"/>
<ellipse cx="300.5" cy="48.6" rx="2.1" ry="2.4" fill="rgb(79,79,79)"/>
<ellipse cx="231.8" cy="64.1" rx="2.8" ry="1.9" fill="rgb(79,79,79)"/>
<ellipse cx="268.9" cy="79.3" rx="3" ry="2.3" fill="rgb(128,128,128)"/>
<ellipse cx="282.3" cy="80.6" rx="2.8" ry="2.3" fill="rgb(120,120,120)"/>
<ellipse cx="271" cy="85.5" rx="4.3" ry="2.4" fill="rgb(82,82,82)"/>
<ellipse cx="229.2" cy="48.1" rx="3.3" ry="3.5" fill="rgb(128,128,128)"/>
<ellipse cx="313.9" cy="76.3" rx="2.1" ry="1.4" fill="rgb(120,120,120)"/>
<ellipse cx="270.2" cy="96.4" rx="2.7" ry="1.6" fill="rgb(120,120,120)"/>
<ellipse cx="257.2" cy="98.9" rx="2.9" ry="1.4" fill="rgb(79,79,79)"/>
<ellipse cx="238.6" cy="80.9" rx="2.5" ry="2" fill="rgb(82,82,82)"/>
<ellipse cx="241.9" cy="75.4" rx="3.9" ry="1.7" fill="rgb(120,120,120)"/>
<ellipse cx="219.7" cy="52.2" rx="3.3" ry="1.7" fill="rgb(82,82,82)"/>
<ellipse cx="296.3" cy="52.6" rx="4.4" ry="2.5" fill="rgb(79,79,79)"/>
<ellipse cx="220" cy="49" rx="4" ry="3.4" fill="rgb(120,120,120)"/>
<ellipse cx="282.6" cy="70.6" rx="2.3" ry="1.8" fill="rgb(82,82,82)"/>
<ellipse cx="284.4" cy="62" rx="2.6" ry="2.7" fill="rgb(82,82,82)"/>
<ellipse cx="264.5" cy="91.7" rx="3.7" ry="3.2" fill="rgb(82,82,82)"/>
<ellipse cx="305.4" cy="50.4" rx="3.3" ry="2.7" fill="rgb(82,82,82)"/>
<ellipse cx="305.5" cy="61.3" rx="3.6" ry="1.6" fill="rgb(120,120,120)"/>
<ellipse cx="297" cy="75.6" rx="3.4" ry="1.8" fill="rgb(82,82,82)"/>
<ellipse cx="261.8" cy="53.3" rx="5" ry="3.3" fill="rgb(79,79,79)"/>
<ellipse cx="247.3" cy="56.2" rx="3.7" ry="2.1" fill="rgb(79,79,79)"/>
<ellipse cx="276.6" cy="98.1" rx="3.7" ry="3.4" fill="rgb(82,82,82)"/>
<ellipse cx="312.4" cy="69.7" rx="2.2" ry="1.9" fill="rgb(79,79,79)"/>
<ellipse cx="283.5" cy="85.3" rx="3.8" ry="2" fill="rgb(120,120,120)"/>
<ellipse cx="247.1" cy="62.3" rx="4" ry="2.9" fill="rgb(79,79,79)"/>
<ellipse cx="283.1" cy="90.2" rx="4.6" ry="2.4" fill="rgb(79,79,79)"/>
<ellipse cx="254.2" cy="73.8" rx="3" ry="2.9" fill="rgb(79,79,79)"/>
<ellipse cx="303.8" cy="81" rx="3" ry="2.2" fill="rgb(82,82,82)"/>
<ellipse cx="304.6" cy="82.5" rx="3.1" ry="2.6" fill="rgb(128,128,128)"/>
<ellipse cx="320.9" cy="59.5" rx="3.5" ry="2.7" fill="rgb(79,79,79)"/>
<ellipse cx="294.1" cy="64.6" rx="2.8" ry="2.1" fill="rgb(120,120,120)"/>
<ellipse cx="268.4" cy="106.6" rx="2.4" ry="2.9" fill="rgb(79,79,79)"/>
<ellipse cx="241" cy="76.8" rx="3.6" ry="2.8" fill="rgb(120,120,120)"/>
<ellipse cx="266.3" cy="61" rx="3.1" ry="1.7" fill="rgb(120,120,120)"/>
<ellipse cx="290.6" cy="75.7" rx="1.9" ry="1.7" fill="rgb(128,128,128)"/>
<ellipse cx="301.1" cy="95.5" rx="3.7" ry="3.1" fill="rgb(79,79,79)"/>
<ellipse cx="291.1" cy="75.9" rx="5" ry="3.6" fill="rgb(120,120,120)"/>
</g>
<g filter="url(#bl3)">
<path d="M252,112C258.8,110.3 289.3,110 296,112C302.7,114 294.3,121 292,124C289.7,127 287,129 282,130C277,131 266.5,131.3 262,130C257.5,128.7 256.7,125 255,122C253.3,119 245.2,113.7 252,112Z" fill="rgb(107,107,107)"/>
</g>
<g filter="url(#bl4)">
<ellipse cx="343" cy="60" rx="12" ry="22" fill="rgb(214,214,214)"/>
</g>
<g filter="url(#bl1_5)">
<ellipse cx="96" cy="106" rx="4.5" ry="3.5" fill="rgb(245,245,245)"/>
</g>
<g filter="url(#bl2)">
<ellipse cx="31" cy="95" rx="4" ry="3" fill="rgb(140,140,140)"/>
</g>
<g filter="url(#bl3)">
<ellipse cx="14" cy="10" rx="6" ry="8" fill="rgb(224,224,224)"/>
</g>
<g filter="url(#bl2)">
<ellipse cx="35" cy="13" rx="5" ry="4" fill="rgb(158,158,158)"/>
</g>
<g filter="url(#bl1_6)">
<path d="M-15,143.8C-12.8,127.8 -4.5,143.8 -2,143.8C0.5,143.8 -1.6,144.2 0.1,143.8C1.8,143.4 5.6,142.1 8.3,141.3C11,140.5 13.8,138.8 16.5,138.8C19.2,138.8 22.1,140.6 24.8,141.3C27.6,142 30.3,142.5 33,142.9C35.7,143.3 38.7,143.4 41.2,143.8C43.7,144.2 45.6,145.6 47.8,145.4C50,145.2 52.2,144 54.4,142.9C56.6,141.8 58.8,139.1 61,138.8C63.2,138.5 65.3,140.5 67.5,141.3C69.7,142.1 71.9,142.9 74.1,143.8C76.3,144.8 78.5,146.3 80.7,147C82.9,147.7 85.1,148.2 87.3,147.9C89.5,147.6 91.6,146.1 93.8,145.4C96,144.7 98.2,144.6 100.4,143.8C102.6,143 105.1,141.2 107,140.5C108.9,139.8 110,139.5 111.9,139.6C113.8,139.7 116.3,140.3 118.5,141.3C120.7,142.3 122.9,144.5 125.1,145.4C127.3,146.3 129.5,146.6 131.7,147C133.9,147.4 136.1,147.9 138.3,147.9C140.5,147.9 142.6,147.7 144.8,147C147,146.3 149.2,145.2 151.4,143.8C153.6,142.4 155.8,140 158,138.8C160.2,137.6 162.4,136.7 164.6,136.4C166.8,136.1 169,136.8 171.2,137.2C173.4,137.6 175.9,138.3 177.7,138.8C179.4,139.3 179.7,139.8 181.7,140.3C183.7,140.8 187.2,141.6 189.9,142C192.7,142.4 195.4,142.5 198.2,142.8C200.9,143.1 203.7,143.3 206.4,143.6C209.1,143.9 211.9,144.8 214.6,144.5C217.3,144.2 220.3,143 222.8,142C225.3,141 227.2,140.1 229.4,138.7C231.6,137.3 233.8,135.3 236,133.8C238.2,132.3 240.4,130.7 242.6,129.6C244.8,128.5 247,127.9 249.2,127.2C251.4,126.5 253.1,125.9 255.8,125.5C258.5,125.1 262.3,124.7 265.6,124.7C268.9,124.7 272.2,125.2 275.5,125.5C278.8,125.8 282.7,126.1 285.4,126.4C288.1,126.7 289.7,126.8 291.9,127.2C294.1,127.6 296.3,127.7 298.5,128.8C300.7,129.9 302.9,132.4 305.1,133.8C307.3,135.2 309.5,136.7 311.7,137C313.9,137.3 316.1,135.4 318.3,135.4C320.5,135.4 322.6,136.4 324.8,137C327,137.6 329.2,137.6 331.4,138.7C333.6,139.8 335.8,141.9 338,143.6C340.2,145.2 342.4,146.7 344.6,148.6C346.8,150.5 349.3,153.6 351.2,155.1C353.1,156.6 354.3,156.9 356.1,157.6C357.9,158.2 358.9,158.8 362,159C365.1,159.2 372.8,145.5 375,159C377.2,172.5 440,226.5 375,240C310,253.5 50,256 -15,240C-80,224 -17.2,159.8 -15,143.8Z" fill="rgb(83,83,83)"/>
</g>
<g filter="url(#bl2)">
<ellipse cx="7" cy="141.2" rx="2.9" ry="2.6" fill="rgb(83,83,83)"/>
<ellipse cx="20.1" cy="141" rx="4.1" ry="3.9" fill="rgb(190,190,190)"/>
<ellipse cx="30.4" cy="141.9" rx="3.3" ry="2.6" fill="rgb(83,83,83)"/>
<ellipse cx="37.3" cy="144.2" rx="3.8" ry="2.9" fill="rgb(190,190,190)"/>
<ellipse cx="45.8" cy="146" rx="3.7" ry="3.7" fill="rgb(190,190,190)"/>
<ellipse cx="59.5" cy="139" rx="4.3" ry="3.9" fill="rgb(83,83,83)"/>
<ellipse cx="74.5" cy="143.4" rx="3.4" ry="3.2" fill="rgb(83,83,83)"/>
<ellipse cx="88.6" cy="148.5" rx="5.3" ry="3.7" fill="rgb(190,190,190)"/>
<ellipse cx="99.9" cy="143" rx="5.9" ry="4.4" fill="rgb(83,83,83)"/>
<ellipse cx="113.8" cy="141.2" rx="5" ry="3.7" fill="rgb(190,190,190)"/>
<ellipse cx="126.6" cy="145.2" rx="3" ry="2.6" fill="rgb(83,83,83)"/>
<ellipse cx="133.9" cy="146.7" rx="3.5" ry="3" fill="rgb(83,83,83)"/>
<ellipse cx="146.1" cy="145.7" rx="3.6" ry="3.2" fill="rgb(83,83,83)"/>
<ellipse cx="155" cy="142.4" rx="6" ry="4.4" fill="rgb(190,190,190)"/>
<ellipse cx="163.1" cy="136.1" rx="4.9" ry="4" fill="rgb(83,83,83)"/>
<ellipse cx="178.5" cy="140.2" rx="5.3" ry="3.8" fill="rgb(190,190,190)"/>
<ellipse cx="192.5" cy="141.4" rx="4.1" ry="4.1" fill="rgb(83,83,83)"/>
<ellipse cx="201.8" cy="142.5" rx="4.8" ry="3" fill="rgb(83,83,83)"/>
<ellipse cx="216.2" cy="145" rx="3.9" ry="3.1" fill="rgb(190,190,190)"/>
<ellipse cx="230.8" cy="137" rx="3.9" ry="3.4" fill="rgb(83,83,83)"/>
<ellipse cx="242.3" cy="130.7" rx="4.7" ry="3" fill="rgb(190,190,190)"/>
<ellipse cx="252.5" cy="127.2" rx="3.8" ry="2.9" fill="rgb(190,190,190)"/>
<ellipse cx="259.9" cy="124.6" rx="3.6" ry="2.6" fill="rgb(83,83,83)"/>
<ellipse cx="273.4" cy="124.7" rx="4.1" ry="3.3" fill="rgb(83,83,83)"/>
<ellipse cx="288.8" cy="127.9" rx="5.4" ry="3.6" fill="rgb(190,190,190)"/>
<ellipse cx="295.5" cy="129.3" rx="5.2" ry="3.9" fill="rgb(190,190,190)"/>
<ellipse cx="304.4" cy="132.5" rx="4.8" ry="3.8" fill="rgb(83,83,83)"/>
<ellipse cx="315" cy="137.5" rx="5.1" ry="4.4" fill="rgb(190,190,190)"/>
<ellipse cx="326" cy="138.2" rx="4.3" ry="2.9" fill="rgb(190,190,190)"/>
<ellipse cx="335.3" cy="142.7" rx="4.1" ry="3.8" fill="rgb(190,190,190)"/>
<ellipse cx="348.6" cy="153.6" rx="4.7" ry="3.6" fill="rgb(190,190,190)"/>
<ellipse cx="355.2" cy="156.5" rx="4.9" ry="3.1" fill="rgb(83,83,83)"/>
</g>
<g filter="url(#bl3)">
<ellipse cx="3" cy="148.9" rx="7" ry="3" fill="rgb(74,74,74)"/>
<ellipse cx="19" cy="145.6" rx="7" ry="3" fill="rgb(74,74,74)"/>
<ellipse cx="35" cy="149.1" rx="7" ry="3" fill="rgb(74,74,74)"/>
<ellipse cx="51" cy="150.2" rx="7" ry="3" fill="rgb(74,74,74)"/>
<ellipse cx="67" cy="147.1" rx="7" ry="3" fill="rgb(74,74,74)"/>
<ellipse cx="83" cy="153.3" rx="7" ry="3" fill="rgb(74,74,74)"/>
<ellipse cx="99" cy="150.1" rx="7" ry="3" fill="rgb(74,74,74)"/>
<ellipse cx="115" cy="146.4" rx="7" ry="3" fill="rgb(74,74,74)"/>
<ellipse cx="131" cy="152.8" rx="7" ry="3" fill="rgb(74,74,74)"/>
<ellipse cx="147" cy="151.9" rx="7" ry="3" fill="rgb(74,74,74)"/>
<ellipse cx="163" cy="143" rx="7" ry="3" fill="rgb(74,74,74)"/>
<ellipse cx="179" cy="145.3" rx="7" ry="3" fill="rgb(74,74,74)"/>
<ellipse cx="195" cy="148.5" rx="7" ry="3" fill="rgb(74,74,74)"/>
<ellipse cx="211" cy="150.1" rx="7" ry="3" fill="rgb(74,74,74)"/>
<ellipse cx="227" cy="145.9" rx="7" ry="3" fill="rgb(74,74,74)"/>
<ellipse cx="243" cy="135.5" rx="7" ry="3" fill="rgb(74,74,74)"/>
<ellipse cx="259" cy="131.2" rx="7" ry="3" fill="rgb(74,74,74)"/>
<ellipse cx="275" cy="131.5" rx="7" ry="3" fill="rgb(74,74,74)"/>
<ellipse cx="291" cy="133.1" rx="7" ry="3" fill="rgb(74,74,74)"/>
<ellipse cx="307" cy="140.7" rx="7" ry="3" fill="rgb(74,74,74)"/>
<ellipse cx="323" cy="142.6" rx="7" ry="3" fill="rgb(74,74,74)"/>
<ellipse cx="339" cy="150.4" rx="7" ry="3" fill="rgb(74,74,74)"/>
<ellipse cx="355" cy="163" rx="7" ry="3" fill="rgb(74,74,74)"/>
</g>
<g filter="url(#bl2)">
<ellipse cx="169.9" cy="195.2" rx="5.6" ry="3.8" fill="rgb(79,79,79)"/>
<ellipse cx="172.7" cy="194" rx="7" ry="3.7" fill="rgb(71,71,71)"/>
<ellipse cx="236.8" cy="152.2" rx="4.7" ry="5" fill="rgb(71,71,71)"/>
<ellipse cx="206.3" cy="156.8" rx="7.2" ry="4.9" fill="rgb(71,71,71)"/>
<ellipse cx="327.6" cy="182.7" rx="4.8" ry="3.4" fill="rgb(71,71,71)"/>
<ellipse cx="236.6" cy="221.6" rx="7.6" ry="4.7" fill="rgb(71,71,71)"/>
<ellipse cx="198.7" cy="182.6" rx="4" ry="3" fill="rgb(102,102,102)"/>
<ellipse cx="170.7" cy="172.3" rx="3.9" ry="3.1" fill="rgb(79,79,79)"/>
<ellipse cx="127.6" cy="170.5" rx="7.8" ry="4.2" fill="rgb(76,76,76)"/>
<ellipse cx="120" cy="171.2" rx="7.4" ry="3.9" fill="rgb(102,102,102)"/>
<ellipse cx="294.5" cy="176.1" rx="5.2" ry="4.3" fill="rgb(102,102,102)"/>
<ellipse cx="73.2" cy="191" rx="6.3" ry="4.3" fill="rgb(79,79,79)"/>
<ellipse cx="13.2" cy="163.2" rx="5.6" ry="2.9" fill="rgb(102,102,102)"/>
<ellipse cx="131.9" cy="168.5" rx="6.4" ry="5" fill="rgb(76,76,76)"/>
<ellipse cx="342.2" cy="154.1" rx="7.8" ry="5.1" fill="rgb(76,76,76)"/>
<ellipse cx="96" cy="204.7" rx="4.4" ry="2.8" fill="rgb(71,71,71)"/>
<ellipse cx="129.2" cy="185.9" rx="5.1" ry="3.6" fill="rgb(79,79,79)"/>
<ellipse cx="228.9" cy="159.3" rx="6.1" ry="4.8" fill="rgb(79,79,79)"/>
<ellipse cx="245.1" cy="177.4" rx="7.2" ry="5.7" fill="rgb(71,71,71)"/>
<ellipse cx="99.6" cy="219.3" rx="6.8" ry="4.9" fill="rgb(76,76,76)"/>
<ellipse cx="262.8" cy="183.8" rx="2.5" ry="1.9" fill="rgb(79,79,79)"/>
<ellipse cx="150.5" cy="160.3" rx="7.2" ry="4.3" fill="rgb(79,79,79)"/>
<ellipse cx="272.2" cy="175.1" rx="8" ry="5.4" fill="rgb(79,79,79)"/>
<ellipse cx="350.8" cy="193.6" rx="4.4" ry="4.3" fill="rgb(76,76,76)"/>
<ellipse cx="323.6" cy="207" rx="10.1" ry="6.1" fill="rgb(102,102,102)"/>
<ellipse cx="283.7" cy="199.7" rx="3.8" ry="3.6" fill="rgb(102,102,102)"/>
<ellipse cx="222.7" cy="150.5" rx="6.9" ry="4.3" fill="rgb(76,76,76)"/>
<ellipse cx="25.7" cy="169.9" rx="3.4" ry="3" fill="rgb(79,79,79)"/>
<ellipse cx="111.2" cy="155.1" rx="7.6" ry="5" fill="rgb(76,76,76)"/>
<ellipse cx="10.6" cy="181" rx="4.7" ry="4.5" fill="rgb(79,79,79)"/>
<ellipse cx="163.6" cy="214.3" rx="3.3" ry="3.4" fill="rgb(79,79,79)"/>
<ellipse cx="100.1" cy="156.9" rx="4.8" ry="5" fill="rgb(79,79,79)"/>
<ellipse cx="58.1" cy="179" rx="7.9" ry="4.2" fill="rgb(102,102,102)"/>
<ellipse cx="281.2" cy="144.1" rx="7.2" ry="6" fill="rgb(102,102,102)"/>
<ellipse cx="186.7" cy="177" rx="2.8" ry="2.7" fill="rgb(79,79,79)"/>
<ellipse cx="125.4" cy="201.5" rx="5.1" ry="3.4" fill="rgb(79,79,79)"/>
<ellipse cx="61" cy="180.1" rx="6.2" ry="5.6" fill="rgb(102,102,102)"/>
<ellipse cx="287.7" cy="164" rx="8.9" ry="5.8" fill="rgb(79,79,79)"/>
<ellipse cx="53.1" cy="161.8" rx="3.8" ry="2.9" fill="rgb(102,102,102)"/>
<ellipse cx="147.6" cy="191.9" rx="4.5" ry="3.2" fill="rgb(102,102,102)"/>
<ellipse cx="336.5" cy="208.4" rx="5" ry="3.7" fill="rgb(71,71,71)"/>
<ellipse cx="347.6" cy="183.9" rx="4.2" ry="3.1" fill="rgb(79,79,79)"/>
<ellipse cx="350.9" cy="216.9" rx="9" ry="5" fill="rgb(76,76,76)"/>
<ellipse cx="268.1" cy="212.2" rx="4.8" ry="5.3" fill="rgb(76,76,76)"/>
<ellipse cx="58.4" cy="200.1" rx="4.1" ry="3" fill="rgb(79,79,79)"/>
<ellipse cx="326.1" cy="170.6" rx="5.1" ry="3.5" fill="rgb(71,71,71)"/>
<ellipse cx="233.2" cy="207.3" rx="6.5" ry="4.3" fill="rgb(102,102,102)"/>
<ellipse cx="305.3" cy="215" rx="4.1" ry="1.9" fill="rgb(76,76,76)"/>
<ellipse cx="176" cy="211.9" rx="8.9" ry="5.6" fill="rgb(102,102,102)"/>
<ellipse cx="196.5" cy="220.9" rx="4.1" ry="4.7" fill="rgb(79,79,79)"/>
<ellipse cx="22.3" cy="149.1" rx="2.9" ry="2.1" fill="rgb(76,76,76)"/>
<ellipse cx="11.1" cy="197.7" rx="7.9" ry="5.2" fill="rgb(71,71,71)"/>
<ellipse cx="212.4" cy="189.3" rx="8.3" ry="5.5" fill="rgb(79,79,79)"/>
<ellipse cx="151.6" cy="185.6" rx="4.3" ry="2.9" fill="rgb(79,79,79)"/>
<ellipse cx="341.1" cy="222.9" rx="9.3" ry="5.1" fill="rgb(79,79,79)"/>
<ellipse cx="260.7" cy="136" rx="9" ry="6" fill="rgb(38,38,38)"/>
</g>
<g filter="url(#bl1_5)">
<ellipse cx="260.7" cy="136" rx="4" ry="3.5" fill="rgb(5,5,5)"/>
</g>
<g filter="url(#bl2)">
<ellipse cx="293.6" cy="135.4" rx="6" ry="6" fill="rgb(64,64,64)"/>
<ellipse cx="147" cy="175" rx="4" ry="10" fill="rgb(51,51,51)"/>
<ellipse cx="148" cy="200" rx="3" ry="8" fill="rgb(56,56,56)"/>
</g>
<g filter="url(#bl2_5)">
<ellipse cx="146" cy="218" rx="4" ry="8" fill="rgb(61,61,61)"/>
</g>
</g></g>
<path d="M682.5,47.5H1050.5 M692,47.5V271.5" stroke="#222" stroke-width="1.2" fill="none"/>
<path d="M692,38V47.5M737.2,38V47.5M782,38V47.5M826.8,38V47.5M871.5,38V47.5M916.2,38V47.5M961,38V47.5M1005.8,38V47.5M1050.5,38V47.5M682.5,92.3H692.5M682.5,137.1H692.5M682.5,181.9H692.5M682.5,226.7H692.5M682.5,271.5H692.5" stroke="#222" stroke-width="1.2" fill="none"/>
<text class="tk" x="693" y="32.1">0 nm</text>
<text class="tk" x="737.5" y="32.1">5</text>
<text class="tk" x="782.2" y="32.1">10</text>
<text class="tk" x="827" y="32.1">15</text>
<text class="tk" x="871.7" y="32.1">20</text>
<text class="tk" x="916.5" y="32.1">25</text>
<text class="tk" x="961.2" y="32.1">30</text>
<text class="tk" x="1006" y="32.1">35</text>
<text class="tk" x="681" y="63.4" text-anchor="end">0</text>
<text class="tk" x="681" y="108.2" text-anchor="end">5</text>
<text class="tk" x="681" y="153" text-anchor="end">10</text>
<text class="tk" x="681" y="197.8" text-anchor="end">15</text>
<text class="tk" x="681" y="242.6" text-anchor="end">20</text>
<rect x="1068.9" y="47.5" width="16.9" height="224" fill="url(#cbar)" stroke="#222" stroke-width="1.1"/>
<path d="M1085.8,47.5H1095.3M1085.8,84.8H1091.4M1085.8,122.2H1091.4M1085.8,159.5H1091.4M1085.8,196.8H1091.4M1085.8,234.2H1091.4M1085.8,271.5H1095.3" stroke="#222" stroke-width="1.2" fill="none"/>
<text class="tk" x="1098.5" y="62.8">1.2 nm</text>
<text class="tk" x="1098.5" y="117.4">0.8</text>
<text class="tk" x="1098.5" y="154.8">0.6</text>
<text class="tk" x="1098.5" y="192.1">0.4</text>
<text class="tk" x="1098.5" y="229.5">0.2</text>
<text class="tk" x="1098.5" y="266.9">0.0</text>
<path d="M902.8,153.9L1029.6,140M900.4,157.4L959.8,234.3" stroke="#111" stroke-width="1.5" fill="none"/>
<text class="ln" x="912.3" y="147.3" text-anchor="middle">1</text>
<text class="ln" x="899.2" y="180.9" text-anchor="middle">2</text>
<text class="pl" x="899.5" y="308.3" text-anchor="middle">(<tspan font-weight="bold">b</tspan>)</text>
<g clip-path="url(#clip2)"><g filter="url(#stm2)" transform="translate(66,351)">
<rect x="-12" y="-12" width="382" height="248" fill="rgb(134,134,134)"/>
<g filter="url(#bl6)">
<ellipse cx="335" cy="90" rx="25" ry="45" fill="rgb(153,153,153)"/>
</g>
<g filter="url(#bl7)">
<ellipse cx="70" cy="128" rx="85" ry="14" fill="rgb(147,147,147)"/>
</g>
<g filter="url(#bl4)">
<ellipse cx="25" cy="15" rx="14" ry="5" fill="rgb(122,122,122)"/>
</g>
<g filter="url(#bl6)">
<ellipse cx="330" cy="25" rx="30" ry="20" fill="rgb(143,143,143)"/>
<path d="M192,60C192,56.3 200.1,48.8 204,46C207.9,43.2 211.2,43.5 215.6,43C219.9,42.5 225,43.2 230.1,43C235.2,42.8 240.8,42.6 246.1,41.9C251.4,41.2 256.8,38.6 262.1,38.6C267.4,38.6 272.8,40.8 278.1,41.9C283.4,43 289,45.1 294.1,45.1C299.2,45.1 304.4,40.9 308.5,41.9C312.6,42.9 317.2,47.2 318.6,50.9C320,54.6 318.4,59.6 317,64.1C315.6,68.6 313.2,73.5 310.5,77.9C307.8,82.3 303.6,86.4 300.9,90.7C298.2,95 296.6,98.5 294.5,103.5C292.4,108.5 296.5,118.1 288.1,121C279.7,123.9 252.8,123.7 244.1,121C235.4,118.3 239.3,110.4 236.1,105.1C232.9,99.8 228.4,93.9 224.9,89.1C221.4,84.3 218.7,79.8 215.2,76.3C211.7,72.8 207.9,71 204,68.3C200.1,65.6 192,63.7 192,60Z" fill="rgb(94,94,94)"/>
</g>
<g filter="url(#bl3_4)">
<path d="M198,59.9C198,57 203.1,51.1 206,48.7C208.9,46.3 211.6,46 215.6,45.5C219.6,45 225,45.8 230.1,45.5C235.2,45.2 240.8,44.7 246.1,43.9C251.4,43.1 256.8,40.6 262.1,40.6C267.4,40.6 272.8,42.8 278.1,43.9C283.4,45 289,47.1 294.1,47.1C299.2,47.1 304.8,43.1 308.5,43.9C312.2,44.7 315.5,48.7 316.6,51.9C317.7,55.1 316.4,59.1 315,63.1C313.6,67.1 311.2,71.6 308.5,75.9C305.8,80.2 301.6,84.4 298.9,88.7C296.2,93 294.6,96.5 292.5,101.5C290.4,106.5 293.8,116.1 286.1,119C278.4,121.9 254.1,121.7 246.1,119C238.1,116.3 241.3,108.4 238.1,103.1C234.9,97.8 230.4,91.9 226.9,87.1C223.4,82.3 220.7,77.8 217.2,74.3C213.7,70.8 209.2,68.7 206,66.3C202.8,63.9 198,62.8 198,59.9Z" fill="rgb(33,33,33)"/>
</g>
<g filter="url(#bl3)">
<ellipse cx="220.5" cy="53.5" rx="12" ry="8" fill="rgb(15,15,15)"/>
<ellipse cx="246" cy="71" rx="14" ry="10" fill="rgb(36,36,36)"/>
<ellipse cx="278" cy="82" rx="10" ry="8" fill="rgb(38,38,38)"/>
</g>
<g filter="url(#bl2)">
<ellipse cx="289.3" cy="82.3" rx="5" ry="5" fill="rgb(89,89,89)"/>
<ellipse cx="263.7" cy="51.9" rx="6" ry="4" fill="rgb(76,76,76)"/>
<ellipse cx="300" cy="58" rx="6" ry="5" fill="rgb(71,71,71)"/>
</g>
<g filter="url(#bl3)">
<path d="M248,117C253.3,115.2 282.2,115.5 288,117C293.8,118.5 286,123.7 283,126C280,128.3 274.5,130.7 270,131C265.5,131.3 259.7,130.3 256,128C252.3,125.7 242.7,118.8 248,117Z" fill="rgb(76,76,76)"/>
</g>
<g filter="url(#bl2)">
<ellipse cx="32" cy="87" rx="5" ry="4" fill="rgb(107,107,107)"/>
</g>
<g filter="url(#bl3)">
<ellipse cx="18" cy="20" rx="8" ry="4" fill="rgb(128,128,128)"/>
<ellipse cx="100" cy="23" rx="6" ry="5" fill="rgb(128,128,128)"/>
<ellipse cx="172" cy="37" rx="5" ry="4" fill="rgb(128,128,128)"/>
</g>
<g filter="url(#bl2)">
<ellipse cx="86" cy="102" rx="6" ry="4" fill="rgb(173,173,173)"/>
</g>
<g filter="url(#bl1_6)">
<path d="M-15,143.3C-12.8,127.2 -4.6,143.3 -2,143.3C0.6,143.3 -1.2,142.9 0.6,143.3C2.4,143.7 6.1,145.1 8.8,145.8C11.5,146.5 14.2,147.3 17,147.4C19.8,147.5 22.6,146.6 25.3,146.6C28.1,146.6 30.8,147.4 33.5,147.4C36.2,147.4 39,147.2 41.7,146.6C44.4,146 47.4,144.2 49.9,144.1C52.4,144 54.3,145 56.5,145.8C58.7,146.6 60.9,148.4 63.1,149.1C65.3,149.8 67.5,149.9 69.7,149.9C71.9,149.9 74.1,149.1 76.3,149.1C78.5,149.1 80.6,150 82.8,149.9C85,149.8 87.2,148.9 89.4,148.3C91.6,147.8 93.8,147 96,146.6C98.2,146.2 100.4,145.7 102.6,145.8C104.8,145.9 107,146.3 109.2,147.4C111.4,148.5 113.5,151.4 115.7,152.4C117.9,153.4 120.1,153.2 122.3,153.2C124.5,153.2 126.7,152.7 128.9,152.4C131.1,152.1 133.3,151.8 135.5,151.5C137.7,151.2 139.9,151.6 142.1,150.7C144.3,149.8 146.4,147.3 148.6,145.8C150.8,144.3 153,142.4 155.2,141.7C157.4,141 159.6,141.4 161.8,141.7C164,142 166.4,142.5 168.4,143.3C170.4,144.1 171.7,146.3 174,146.5C176.3,146.7 179.5,144.5 182.2,144.3C184.9,144.1 187.7,144.7 190.4,145.1C193.2,145.5 195.9,146.1 198.7,146.8C201.4,147.5 204.2,148.9 206.9,149.2C209.6,149.5 212.3,149.9 215.1,148.4C217.8,146.9 220.9,142.5 223.4,140.2C225.9,137.9 227.7,135.9 229.9,134.4C232.1,132.9 234.3,132.1 236.5,131.1C238.7,130.1 240.6,129.4 243.1,128.7C245.6,128 248.6,127.5 251.3,127C254,126.5 257,125.5 259.5,125.4C262,125.3 263.9,125.9 266.1,126.2C268.3,126.5 270.2,126.6 272.7,127C275.2,127.4 278.1,128.1 280.9,128.7C283.6,129.2 286.7,129.2 289.2,130.3C291.7,131.4 293.5,133.9 295.7,135.3C297.9,136.7 300.1,137.8 302.3,138.5C304.5,139.2 306.7,139.1 308.9,139.4C311.1,139.7 313.3,139.5 315.5,140.2C317.7,140.9 319.9,142.4 322.1,143.5C324.3,144.6 326.4,145.4 328.6,146.8C330.8,148.2 333,150.1 335.2,151.7C337.4,153.3 339.6,155.2 341.8,156.6C344,158 345.9,159.1 348.4,159.9C350.9,160.7 354.3,161.2 356.6,161.6C358.9,161.9 358.9,161.9 362,162C365.1,162.1 372.8,149 375,162C377.2,175 440,227 375,240C310,253 50,256.1 -15,240C-80,223.9 -17.2,159.4 -15,143.3Z" fill="rgb(83,83,83)"/>
</g>
<g filter="url(#bl2)">
<ellipse cx="0.4" cy="142.5" rx="5" ry="3.9" fill="rgb(83,83,83)"/>
<ellipse cx="12.9" cy="145.8" rx="5.3" ry="4.1" fill="rgb(83,83,83)"/>
<ellipse cx="19.7" cy="146.5" rx="5.1" ry="3.4" fill="rgb(83,83,83)"/>
<ellipse cx="31.1" cy="146.4" rx="4.4" ry="4" fill="rgb(83,83,83)"/>
<ellipse cx="45.2" cy="144.7" rx="4.4" ry="4.1" fill="rgb(83,83,83)"/>
<ellipse cx="56.3" cy="146.8" rx="4.7" ry="3.5" fill="rgb(134,134,134)"/>
<ellipse cx="67.4" cy="148.9" rx="3.8" ry="3.7" fill="rgb(83,83,83)"/>
<ellipse cx="74.5" cy="150.6" rx="5.2" ry="4.4" fill="rgb(134,134,134)"/>
<ellipse cx="88.9" cy="147.7" rx="5.4" ry="3.5" fill="rgb(83,83,83)"/>
<ellipse cx="100.7" cy="147.3" rx="4.6" ry="4.4" fill="rgb(134,134,134)"/>
<ellipse cx="112.8" cy="151.4" rx="4.9" ry="4.1" fill="rgb(134,134,134)"/>
<ellipse cx="124" cy="152.2" rx="5.9" ry="3.9" fill="rgb(83,83,83)"/>
<ellipse cx="137.5" cy="152" rx="3.2" ry="2.6" fill="rgb(134,134,134)"/>
<ellipse cx="145.7" cy="149.1" rx="4.9" ry="3.7" fill="rgb(134,134,134)"/>
<ellipse cx="153.3" cy="143.9" rx="5.5" ry="3.5" fill="rgb(134,134,134)"/>
<ellipse cx="166.2" cy="143.5" rx="3.5" ry="2.6" fill="rgb(134,134,134)"/>
<ellipse cx="173.5" cy="145.7" rx="3.9" ry="2.8" fill="rgb(83,83,83)"/>
<ellipse cx="181.5" cy="143.7" rx="5.4" ry="4.1" fill="rgb(83,83,83)"/>
<ellipse cx="192" cy="144.9" rx="4" ry="2.6" fill="rgb(83,83,83)"/>
<ellipse cx="207.2" cy="150" rx="4.4" ry="2.7" fill="rgb(134,134,134)"/>
<ellipse cx="221.7" cy="141" rx="6.1" ry="4.3" fill="rgb(83,83,83)"/>
<ellipse cx="232.7" cy="134.3" rx="6.6" ry="4.4" fill="rgb(134,134,134)"/>
<ellipse cx="246.9" cy="128.9" rx="3.5" ry="3.3" fill="rgb(134,134,134)"/>
<ellipse cx="255.3" cy="125.3" rx="6.2" ry="4.4" fill="rgb(83,83,83)"/>
<ellipse cx="267" cy="127.2" rx="4.7" ry="3" fill="rgb(134,134,134)"/>
<ellipse cx="276.4" cy="127.1" rx="3.5" ry="3.2" fill="rgb(83,83,83)"/>
<ellipse cx="290.3" cy="132.3" rx="5.5" ry="3.9" fill="rgb(134,134,134)"/>
<ellipse cx="305.4" cy="138.3" rx="3.3" ry="2.9" fill="rgb(83,83,83)"/>
<ellipse cx="315.3" cy="139.3" rx="5.7" ry="4.5" fill="rgb(83,83,83)"/>
<ellipse cx="322.5" cy="144.5" rx="3.5" ry="2.6" fill="rgb(134,134,134)"/>
<ellipse cx="333.6" cy="151.8" rx="6.8" ry="4.3" fill="rgb(134,134,134)"/>
<ellipse cx="345.3" cy="157.7" rx="4.4" ry="3" fill="rgb(83,83,83)"/>
<ellipse cx="353.2" cy="161.7" rx="2.7" ry="2.5" fill="rgb(134,134,134)"/>
</g>
<g filter="url(#bl3)">
<ellipse cx="6" cy="150.9" rx="7" ry="3" fill="rgb(76,76,76)"/>
<ellipse cx="23" cy="152.8" rx="7" ry="3" fill="rgb(76,76,76)"/>
<ellipse cx="40" cy="152.8" rx="7" ry="3" fill="rgb(76,76,76)"/>
<ellipse cx="57" cy="152" rx="7" ry="3" fill="rgb(76,76,76)"/>
<ellipse cx="74" cy="155.4" rx="7" ry="3" fill="rgb(76,76,76)"/>
<ellipse cx="91" cy="153.9" rx="7" ry="3" fill="rgb(76,76,76)"/>
<ellipse cx="108" cy="153.1" rx="7" ry="3" fill="rgb(76,76,76)"/>
<ellipse cx="125" cy="158.9" rx="7" ry="3" fill="rgb(76,76,76)"/>
<ellipse cx="142" cy="156.7" rx="7" ry="3" fill="rgb(76,76,76)"/>
<ellipse cx="159" cy="147.7" rx="7" ry="3" fill="rgb(76,76,76)"/>
<ellipse cx="176" cy="152" rx="7" ry="3" fill="rgb(76,76,76)"/>
<ellipse cx="193" cy="151.6" rx="7" ry="3" fill="rgb(76,76,76)"/>
<ellipse cx="210" cy="154.9" rx="7" ry="3" fill="rgb(76,76,76)"/>
<ellipse cx="227" cy="143" rx="7" ry="3" fill="rgb(76,76,76)"/>
<ellipse cx="244" cy="134.5" rx="7" ry="3" fill="rgb(76,76,76)"/>
<ellipse cx="261" cy="131.6" rx="7" ry="3" fill="rgb(76,76,76)"/>
<ellipse cx="278" cy="134.1" rx="7" ry="3" fill="rgb(76,76,76)"/>
<ellipse cx="295" cy="140.8" rx="7" ry="3" fill="rgb(76,76,76)"/>
<ellipse cx="312" cy="145.8" rx="7" ry="3" fill="rgb(76,76,76)"/>
<ellipse cx="329" cy="153.1" rx="7" ry="3" fill="rgb(76,76,76)"/>
<ellipse cx="346" cy="164.7" rx="7" ry="3" fill="rgb(76,76,76)"/>
</g>
<g filter="url(#bl2)">
<ellipse cx="92.7" cy="197.6" rx="8.4" ry="4.3" fill="rgb(74,74,74)"/>
<ellipse cx="238.5" cy="213" rx="5.7" ry="3.9" fill="rgb(74,74,74)"/>
<ellipse cx="266.6" cy="142.5" rx="4.4" ry="3.6" fill="rgb(79,79,79)"/>
<ellipse cx="298.7" cy="147.1" rx="9.3" ry="4.9" fill="rgb(102,102,102)"/>
<ellipse cx="266.6" cy="219.7" rx="6.6" ry="6.6" fill="rgb(102,102,102)"/>
<ellipse cx="321.6" cy="186.2" rx="9.5" ry="7.6" fill="rgb(79,79,79)"/>
<ellipse cx="234.6" cy="169.1" rx="7.1" ry="4.2" fill="rgb(102,102,102)"/>
<ellipse cx="198.4" cy="202.9" rx="4.4" ry="2.9" fill="rgb(74,74,74)"/>
<ellipse cx="105" cy="155.1" rx="4.9" ry="3.4" fill="rgb(79,79,79)"/>
<ellipse cx="175.7" cy="159.8" rx="3.8" ry="3.1" fill="rgb(69,69,69)"/>
<ellipse cx="154.1" cy="192.8" rx="4.3" ry="4.1" fill="rgb(69,69,69)"/>
<ellipse cx="80.5" cy="181.8" rx="6.9" ry="4.6" fill="rgb(102,102,102)"/>
<ellipse cx="263.6" cy="161.1" rx="6.9" ry="6" fill="rgb(79,79,79)"/>
<ellipse cx="186.3" cy="195.2" rx="9.2" ry="5.2" fill="rgb(102,102,102)"/>
<ellipse cx="75.8" cy="191.8" rx="6.8" ry="4.4" fill="rgb(79,79,79)"/>
<ellipse cx="65.2" cy="156.2" rx="7.9" ry="6.7" fill="rgb(74,74,74)"/>
<ellipse cx="24.8" cy="194.1" rx="6.5" ry="3.6" fill="rgb(102,102,102)"/>
<ellipse cx="295.5" cy="194.2" rx="4.9" ry="4.1" fill="rgb(102,102,102)"/>
<ellipse cx="107.9" cy="162.6" rx="5.1" ry="4.7" fill="rgb(79,79,79)"/>
<ellipse cx="304.9" cy="143" rx="4.1" ry="3.8" fill="rgb(102,102,102)"/>
<ellipse cx="79.9" cy="157.4" rx="7.2" ry="6.2" fill="rgb(74,74,74)"/>
<ellipse cx="264.3" cy="161.7" rx="8.4" ry="4.5" fill="rgb(74,74,74)"/>
<ellipse cx="127.3" cy="160.5" rx="4.1" ry="3.3" fill="rgb(69,69,69)"/>
<ellipse cx="113.5" cy="178.7" rx="2.8" ry="3.2" fill="rgb(79,79,79)"/>
<ellipse cx="68.2" cy="180.4" rx="5.8" ry="4.1" fill="rgb(102,102,102)"/>
<ellipse cx="18.8" cy="171" rx="3.7" ry="3.2" fill="rgb(79,79,79)"/>
<ellipse cx="11.9" cy="150.8" rx="5.1" ry="4.6" fill="rgb(102,102,102)"/>
<ellipse cx="15.6" cy="184.9" rx="4.7" ry="2.7" fill="rgb(74,74,74)"/>
<ellipse cx="323" cy="215.1" rx="9.1" ry="4.8" fill="rgb(79,79,79)"/>
<ellipse cx="25.2" cy="162.2" rx="5.9" ry="4.9" fill="rgb(74,74,74)"/>
<ellipse cx="186.1" cy="217.3" rx="6" ry="4.4" fill="rgb(69,69,69)"/>
<ellipse cx="41.3" cy="151.5" rx="7.3" ry="4.6" fill="rgb(79,79,79)"/>
<ellipse cx="53.3" cy="185.8" rx="4.4" ry="4.2" fill="rgb(74,74,74)"/>
<ellipse cx="260.2" cy="149" rx="8.7" ry="6.6" fill="rgb(102,102,102)"/>
<ellipse cx="57.5" cy="222.3" rx="7.8" ry="6.2" fill="rgb(69,69,69)"/>
<ellipse cx="39.2" cy="165.9" rx="8.6" ry="5.6" fill="rgb(74,74,74)"/>
<ellipse cx="10.5" cy="161.8" rx="6.3" ry="3.3" fill="rgb(79,79,79)"/>
<ellipse cx="149" cy="223.4" rx="7.4" ry="4.8" fill="rgb(102,102,102)"/>
<ellipse cx="207" cy="220.5" rx="6.7" ry="4.7" fill="rgb(74,74,74)"/>
<ellipse cx="10.4" cy="216.1" rx="6" ry="3.5" fill="rgb(69,69,69)"/>
<ellipse cx="210.8" cy="165.8" rx="8.2" ry="6" fill="rgb(69,69,69)"/>
<ellipse cx="76.7" cy="202.6" rx="6.6" ry="6.1" fill="rgb(69,69,69)"/>
<ellipse cx="278.1" cy="197.2" rx="5.3" ry="3.9" fill="rgb(102,102,102)"/>
<ellipse cx="331.5" cy="161.6" rx="6.3" ry="3.8" fill="rgb(69,69,69)"/>
<ellipse cx="204.5" cy="214.9" rx="9" ry="6.4" fill="rgb(102,102,102)"/>
<ellipse cx="84.3" cy="182.8" rx="3.1" ry="2" fill="rgb(102,102,102)"/>
<ellipse cx="292.5" cy="209.8" rx="7.9" ry="5.6" fill="rgb(69,69,69)"/>
<ellipse cx="260" cy="190.1" rx="3.9" ry="2.8" fill="rgb(69,69,69)"/>
<ellipse cx="277.5" cy="213.6" rx="6.3" ry="3.9" fill="rgb(102,102,102)"/>
<ellipse cx="24.1" cy="212.2" rx="5.5" ry="4.2" fill="rgb(69,69,69)"/>
<ellipse cx="326.7" cy="197.4" rx="4.1" ry="3.9" fill="rgb(102,102,102)"/>
<ellipse cx="107.5" cy="218" rx="3.8" ry="2.4" fill="rgb(102,102,102)"/>
<ellipse cx="202" cy="203" rx="3.2" ry="2.2" fill="rgb(79,79,79)"/>
<ellipse cx="354.5" cy="210.6" rx="6" ry="4.7" fill="rgb(69,69,69)"/>
<ellipse cx="73" cy="221.8" rx="3" ry="2.2" fill="rgb(69,69,69)"/>
</g>
<g filter="url(#bl3)">
<ellipse cx="347" cy="150" rx="9" ry="7" fill="rgb(163,163,163)"/>
</g>
<g filter="url(#bl2)">
<ellipse cx="249.7" cy="137.7" rx="9" ry="6" fill="rgb(31,31,31)"/>
</g>
<g filter="url(#bl1_5)">
<ellipse cx="249.7" cy="137.7" rx="4" ry="3" fill="rgb(5,5,5)"/>
</g>
<g filter="url(#bl2)">
<ellipse cx="285.9" cy="137.7" rx="6" ry="5" fill="rgb(64,64,64)"/>
<ellipse cx="140" cy="165" rx="4" ry="8" fill="rgb(51,51,51)"/>
<ellipse cx="138" cy="185" rx="4" ry="8" fill="rgb(51,51,51)"/>
<ellipse cx="139" cy="205" rx="4" ry="9" fill="rgb(56,56,56)"/>
</g>
</g></g>
<path d="M56,351H424 M65.5,351V575" stroke="#222" stroke-width="1.2" fill="none"/>
<path d="M65.5,341.5V351M110.8,341.5V351M155.5,341.5V351M200.2,341.5V351M245,341.5V351M289.8,341.5V351M334.5,341.5V351M379.2,341.5V351M424,341.5V351M56,395.8H66M56,440.6H66M56,485.4H66M56,530.2H66M56,575H66" stroke="#222" stroke-width="1.2" fill="none"/>
<text class="tk" x="66.5" y="335.6">0 nm</text>
<text class="tk" x="111" y="335.6">5</text>
<text class="tk" x="155.7" y="335.6">10</text>
<text class="tk" x="200.4" y="335.6">15</text>
<text class="tk" x="245.2" y="335.6">20</text>
<text class="tk" x="289.9" y="335.6">25</text>
<text class="tk" x="334.7" y="335.6">30</text>
<text class="tk" x="379.4" y="335.6">35</text>
<text class="tk" x="54.5" y="366.9" text-anchor="end">0</text>
<text class="tk" x="54.5" y="411.7" text-anchor="end">5</text>
<text class="tk" x="54.5" y="456.5" text-anchor="end">10</text>
<text class="tk" x="54.5" y="501.3" text-anchor="end">15</text>
<text class="tk" x="54.5" y="546.1" text-anchor="end">20</text>
<rect x="442.4" y="351" width="16.9" height="224" fill="url(#cbar)" stroke="#222" stroke-width="1.1"/>
<path d="M459.3,351H468.8M459.3,388.3H464.9M459.3,425.7H464.9M459.3,463H464.9M459.3,500.3H464.9M459.3,537.7H464.9M459.3,575H468.8" stroke="#222" stroke-width="1.2" fill="none"/>
<text class="tk" x="472" y="366.3">1.2 nm</text>
<text class="tk" x="472" y="420.9">0.8</text>
<text class="tk" x="472" y="458.3">0.6</text>
<text class="tk" x="472" y="495.6">0.4</text>
<text class="tk" x="472" y="533">0.2</text>
<text class="tk" x="472" y="570.4">0.0</text>
<path d="M263.5,459.4L391.1,445M262.8,464.3L303.6,558.2" stroke="#111" stroke-width="1.5" fill="none"/>
<text class="ln" x="272.6" y="453.2" text-anchor="middle">1</text>
<text class="ln" x="262" y="487.1" text-anchor="middle">2</text>
<text class="pl" x="273" y="611.5" text-anchor="middle">(<tspan font-weight="bold">c</tspan>)</text>
<g clip-path="url(#clip3)"><g filter="url(#stm3)" transform="translate(692.5,351)">
<rect x="-12" y="-12" width="382" height="248" fill="rgb(158,158,158)"/>
<g filter="url(#bl6)">
<path d="M318,60C326.8,56.7 357.2,35.8 365,55C372.8,74.2 368.3,157.5 365,175C361.7,192.5 352.8,165 345,160C337.2,155 325.5,150.3 318,145C310.5,139.7 302.2,135.5 300,128C297.8,120.5 303,108.8 305,100C307,91.2 309.8,81.7 312,75C314.2,68.3 309.2,63.3 318,60Z" fill="rgb(212,212,212)"/>
</g>
<g filter="url(#bl2_4)">
<ellipse cx="54.4" cy="103.5" rx="6.9" ry="4.4" fill="rgb(176,176,176)"/>
<ellipse cx="166.7" cy="35.4" rx="3.6" ry="2.9" fill="rgb(128,128,128)"/>
<ellipse cx="47.8" cy="112.7" rx="9.3" ry="5.9" fill="rgb(186,186,186)"/>
<ellipse cx="178.2" cy="104.1" rx="8.7" ry="3.9" fill="rgb(186,186,186)"/>
<ellipse cx="269.8" cy="18.7" rx="8.2" ry="6.3" fill="rgb(138,138,138)"/>
<ellipse cx="132.4" cy="22.7" rx="7" ry="6" fill="rgb(128,128,128)"/>
<ellipse cx="257.5" cy="31.3" rx="10.5" ry="7.1" fill="rgb(181,181,181)"/>
<ellipse cx="326.3" cy="10.6" rx="6.8" ry="4.5" fill="rgb(138,138,138)"/>
<ellipse cx="304.6" cy="133.1" rx="5.4" ry="4.2" fill="rgb(176,176,176)"/>
<ellipse cx="104.9" cy="72.7" rx="6.1" ry="3.1" fill="rgb(186,186,186)"/>
<ellipse cx="327.6" cy="74.4" rx="6.5" ry="5.1" fill="rgb(133,133,133)"/>
<ellipse cx="323.4" cy="16.9" rx="7.7" ry="6.1" fill="rgb(138,138,138)"/>
<ellipse cx="114.4" cy="89.6" rx="4.2" ry="3.1" fill="rgb(133,133,133)"/>
<ellipse cx="123.9" cy="37.1" rx="6.7" ry="4.7" fill="rgb(176,176,176)"/>
<ellipse cx="276.2" cy="7.8" rx="4.5" ry="3.6" fill="rgb(133,133,133)"/>
<ellipse cx="130.2" cy="130.6" rx="5.7" ry="4.2" fill="rgb(186,186,186)"/>
<ellipse cx="158.1" cy="37.8" rx="8.7" ry="7" fill="rgb(128,128,128)"/>
<ellipse cx="314.4" cy="134.9" rx="4.6" ry="3.8" fill="rgb(176,176,176)"/>
<ellipse cx="159.9" cy="135.4" rx="5" ry="4.7" fill="rgb(133,133,133)"/>
<ellipse cx="253.5" cy="1.5" rx="9" ry="4" fill="rgb(181,181,181)"/>
<ellipse cx="107.6" cy="37.5" rx="8.2" ry="6.8" fill="rgb(133,133,133)"/>
<ellipse cx="44.1" cy="14.2" rx="3.2" ry="3.1" fill="rgb(133,133,133)"/>
<ellipse cx="23.7" cy="17.9" rx="4.7" ry="4.7" fill="rgb(176,176,176)"/>
<ellipse cx="163" cy="32.9" rx="3.9" ry="3.2" fill="rgb(186,186,186)"/>
<ellipse cx="246" cy="8.5" rx="7.9" ry="7.3" fill="rgb(176,176,176)"/>
<ellipse cx="252.1" cy="26.3" rx="6.4" ry="5.9" fill="rgb(138,138,138)"/>
<ellipse cx="51.5" cy="108.9" rx="10.3" ry="7.3" fill="rgb(176,176,176)"/>
<ellipse cx="312.9" cy="14.8" rx="6.9" ry="5.5" fill="rgb(181,181,181)"/>
<ellipse cx="102.4" cy="104.9" rx="6.7" ry="3.7" fill="rgb(138,138,138)"/>
<ellipse cx="322.4" cy="53.3" rx="6.9" ry="3.2" fill="rgb(128,128,128)"/>
<ellipse cx="155.4" cy="77" rx="6.3" ry="4.5" fill="rgb(186,186,186)"/>
<ellipse cx="143.2" cy="37.1" rx="8.6" ry="5.9" fill="rgb(176,176,176)"/>
<ellipse cx="108.1" cy="34.2" rx="9.1" ry="4.7" fill="rgb(133,133,133)"/>
<ellipse cx="162.3" cy="107.6" rx="9.5" ry="6.4" fill="rgb(181,181,181)"/>
<ellipse cx="220.4" cy="128.8" rx="8" ry="4.6" fill="rgb(176,176,176)"/>
<ellipse cx="127.4" cy="92.2" rx="9.9" ry="7.2" fill="rgb(128,128,128)"/>
<ellipse cx="53.4" cy="30.3" rx="9.2" ry="4.7" fill="rgb(133,133,133)"/>
<ellipse cx="26.2" cy="45.4" rx="9.6" ry="6.1" fill="rgb(128,128,128)"/>
<ellipse cx="327" cy="25" rx="6.6" ry="4.1" fill="rgb(181,181,181)"/>
<ellipse cx="83.9" cy="126.8" rx="5.1" ry="2.8" fill="rgb(181,181,181)"/>
<ellipse cx="51.9" cy="58.9" rx="5.7" ry="4.6" fill="rgb(186,186,186)"/>
<ellipse cx="57.5" cy="57.7" rx="4.3" ry="4.7" fill="rgb(128,128,128)"/>
<ellipse cx="115.7" cy="94.4" rx="7.6" ry="4.7" fill="rgb(181,181,181)"/>
<ellipse cx="13" cy="91.2" rx="6.3" ry="4" fill="rgb(181,181,181)"/>
<ellipse cx="62.8" cy="55.6" rx="3.2" ry="2.9" fill="rgb(176,176,176)"/>
<ellipse cx="174.7" cy="7.4" rx="4.5" ry="3.6" fill="rgb(133,133,133)"/>
<ellipse cx="24.1" cy="65.4" rx="10.1" ry="6.3" fill="rgb(133,133,133)"/>
<ellipse cx="19.7" cy="122.3" rx="7.3" ry="4.9" fill="rgb(186,186,186)"/>
<ellipse cx="111.5" cy="40.5" rx="5" ry="4.3" fill="rgb(128,128,128)"/>
<ellipse cx="220.5" cy="28" rx="5.1" ry="2.9" fill="rgb(138,138,138)"/>
<ellipse cx="19.4" cy="5.6" rx="6.9" ry="4.9" fill="rgb(133,133,133)"/>
<ellipse cx="10.7" cy="34.9" rx="4.9" ry="3.5" fill="rgb(133,133,133)"/>
<ellipse cx="25.8" cy="124.1" rx="3.7" ry="3.3" fill="rgb(181,181,181)"/>
<ellipse cx="6.9" cy="55.3" rx="7.5" ry="4.4" fill="rgb(128,128,128)"/>
<ellipse cx="71.7" cy="116.7" rx="8.5" ry="7.3" fill="rgb(138,138,138)"/>
<ellipse cx="128.7" cy="141.3" rx="9.8" ry="4.7" fill="rgb(138,138,138)"/>
<ellipse cx="57.2" cy="39.8" rx="3.7" ry="3.2" fill="rgb(133,133,133)"/>
<ellipse cx="291" cy="31" rx="9.1" ry="7.3" fill="rgb(186,186,186)"/>
<ellipse cx="70.2" cy="79.9" rx="7.2" ry="3.7" fill="rgb(133,133,133)"/>
<ellipse cx="79.2" cy="63.6" rx="8.1" ry="5.7" fill="rgb(186,186,186)"/>
<ellipse cx="70" cy="27.7" rx="6.7" ry="5.7" fill="rgb(128,128,128)"/>
<ellipse cx="177.5" cy="68.8" rx="4.7" ry="3.1" fill="rgb(138,138,138)"/>
<ellipse cx="327.8" cy="56.5" rx="4.2" ry="4.6" fill="rgb(181,181,181)"/>
<ellipse cx="97.9" cy="124.9" rx="6.1" ry="5.3" fill="rgb(181,181,181)"/>
<ellipse cx="18.1" cy="55.6" rx="7.9" ry="5.7" fill="rgb(176,176,176)"/>
<ellipse cx="237.1" cy="10.6" rx="4" ry="4" fill="rgb(186,186,186)"/>
<ellipse cx="306.3" cy="29.8" rx="9.8" ry="4.6" fill="rgb(138,138,138)"/>
<ellipse cx="82.1" cy="19.5" rx="9.4" ry="4.4" fill="rgb(181,181,181)"/>
<ellipse cx="97.6" cy="32.7" rx="4.9" ry="3.9" fill="rgb(133,133,133)"/>
<ellipse cx="10.6" cy="135.1" rx="8.5" ry="4.6" fill="rgb(133,133,133)"/>
<ellipse cx="93.6" cy="39.4" rx="6" ry="6.5" fill="rgb(181,181,181)"/>
<ellipse cx="216.1" cy="3.2" rx="7.8" ry="5.3" fill="rgb(181,181,181)"/>
<ellipse cx="177.4" cy="82.3" rx="4.4" ry="5.3" fill="rgb(133,133,133)"/>
<ellipse cx="114.3" cy="113.2" rx="6.8" ry="5.1" fill="rgb(133,133,133)"/>
<ellipse cx="144.9" cy="34.9" rx="9.8" ry="6.9" fill="rgb(181,181,181)"/>
<ellipse cx="113.8" cy="23.2" rx="3.4" ry="3.1" fill="rgb(138,138,138)"/>
<ellipse cx="71.1" cy="7.2" rx="3.9" ry="3.7" fill="rgb(133,133,133)"/>
<ellipse cx="72.9" cy="16.8" rx="5.1" ry="4.5" fill="rgb(128,128,128)"/>
<ellipse cx="67" cy="104.9" rx="5" ry="4.1" fill="rgb(181,181,181)"/>
<ellipse cx="142.5" cy="118.3" rx="9.4" ry="7.1" fill="rgb(176,176,176)"/>
<ellipse cx="99.9" cy="47.7" rx="7.7" ry="7" fill="rgb(128,128,128)"/>
<ellipse cx="190.4" cy="7" rx="6.8" ry="4.2" fill="rgb(128,128,128)"/>
<ellipse cx="305.7" cy="12" rx="9.9" ry="7" fill="rgb(181,181,181)"/>
<ellipse cx="122.5" cy="73.6" rx="6.3" ry="3.4" fill="rgb(128,128,128)"/>
<ellipse cx="94.8" cy="13.6" rx="6.3" ry="4.5" fill="rgb(133,133,133)"/>
<ellipse cx="102.9" cy="58.6" rx="5.7" ry="4.5" fill="rgb(128,128,128)"/>
<ellipse cx="123.5" cy="129.8" rx="6.6" ry="4.6" fill="rgb(176,176,176)"/>
<ellipse cx="71.9" cy="132.5" rx="5.6" ry="5.8" fill="rgb(181,181,181)"/>
<ellipse cx="108.9" cy="28" rx="8" ry="5.2" fill="rgb(128,128,128)"/>
<ellipse cx="71.8" cy="24.8" rx="6.3" ry="7.1" fill="rgb(186,186,186)"/>
<ellipse cx="117" cy="126.9" rx="5.3" ry="4.2" fill="rgb(133,133,133)"/>
<ellipse cx="108.4" cy="133.7" rx="6.5" ry="6.4" fill="rgb(186,186,186)"/>
<ellipse cx="328.9" cy="49.1" rx="7.2" ry="3.5" fill="rgb(176,176,176)"/>
<ellipse cx="9.2" cy="86.7" rx="7.1" ry="7.6" fill="rgb(186,186,186)"/>
<ellipse cx="76.1" cy="18.2" rx="3.3" ry="2.7" fill="rgb(133,133,133)"/>
<ellipse cx="164.8" cy="105.2" rx="8" ry="5" fill="rgb(176,176,176)"/>
<ellipse cx="125.7" cy="139.3" rx="7.7" ry="4.3" fill="rgb(186,186,186)"/>
<ellipse cx="1.3" cy="13.9" rx="7" ry="3.4" fill="rgb(186,186,186)"/>
<ellipse cx="108.2" cy="26.5" rx="7.3" ry="5.8" fill="rgb(138,138,138)"/>
<ellipse cx="136.4" cy="58.8" rx="5.9" ry="5" fill="rgb(186,186,186)"/>
<ellipse cx="135.1" cy="118.8" rx="8" ry="7.2" fill="rgb(186,186,186)"/>
<ellipse cx="87.5" cy="52.4" rx="7" ry="5" fill="rgb(133,133,133)"/>
<ellipse cx="92" cy="117.5" rx="3.5" ry="2.3" fill="rgb(138,138,138)"/>
<ellipse cx="13.9" cy="4.4" rx="6" ry="3.4" fill="rgb(133,133,133)"/>
<ellipse cx="55.7" cy="114.1" rx="5.3" ry="2.8" fill="rgb(138,138,138)"/>
<ellipse cx="107.7" cy="109.1" rx="6.7" ry="3.8" fill="rgb(186,186,186)"/>
<ellipse cx="13.6" cy="44.9" rx="5.8" ry="4.1" fill="rgb(133,133,133)"/>
<ellipse cx="328.7" cy="12.6" rx="10.6" ry="6.1" fill="rgb(186,186,186)"/>
<ellipse cx="308.1" cy="27.5" rx="7.2" ry="4.2" fill="rgb(176,176,176)"/>
<ellipse cx="300.8" cy="12.7" rx="7.3" ry="6.5" fill="rgb(133,133,133)"/>
<ellipse cx="203.4" cy="1.3" rx="9.7" ry="5.6" fill="rgb(186,186,186)"/>
<ellipse cx="145.4" cy="112.5" rx="4.2" ry="3.9" fill="rgb(133,133,133)"/>
<ellipse cx="99.6" cy="139.1" rx="5.6" ry="3.6" fill="rgb(181,181,181)"/>
<ellipse cx="86.4" cy="52.9" rx="5.1" ry="4.8" fill="rgb(128,128,128)"/>
<ellipse cx="156" cy="77.3" rx="5.2" ry="3.3" fill="rgb(133,133,133)"/>
<ellipse cx="176.3" cy="112.9" rx="8.6" ry="4.5" fill="rgb(186,186,186)"/>
<ellipse cx="59.3" cy="81.1" rx="7" ry="7.6" fill="rgb(133,133,133)"/>
<ellipse cx="87.6" cy="112.5" rx="6.1" ry="3.8" fill="rgb(138,138,138)"/>
<ellipse cx="28.7" cy="90.7" rx="9.6" ry="6.7" fill="rgb(181,181,181)"/>
<ellipse cx="319.5" cy="30.5" rx="7.2" ry="4.8" fill="rgb(181,181,181)"/>
<ellipse cx="167.1" cy="119.7" rx="7.5" ry="5.6" fill="rgb(186,186,186)"/>
<ellipse cx="203.8" cy="27" rx="5.4" ry="4.3" fill="rgb(176,176,176)"/>
<ellipse cx="65" cy="100.6" rx="10.8" ry="6.8" fill="rgb(176,176,176)"/>
<ellipse cx="162.2" cy="88" rx="6.3" ry="5.6" fill="rgb(138,138,138)"/>
<ellipse cx="169.5" cy="39.6" rx="5.6" ry="4" fill="rgb(128,128,128)"/>
<ellipse cx="110.4" cy="119.5" rx="5.7" ry="3" fill="rgb(181,181,181)"/>
<ellipse cx="173.7" cy="137.9" rx="5.1" ry="3.9" fill="rgb(186,186,186)"/>
<ellipse cx="158.7" cy="128.9" rx="5.6" ry="4.7" fill="rgb(138,138,138)"/>
<ellipse cx="153" cy="6.3" rx="3.9" ry="3.5" fill="rgb(186,186,186)"/>
<ellipse cx="206.5" cy="24.6" rx="7.3" ry="4.6" fill="rgb(186,186,186)"/>
<ellipse cx="67.5" cy="77.1" rx="3.7" ry="3.2" fill="rgb(128,128,128)"/>
<ellipse cx="111.2" cy="60.2" rx="6.5" ry="6.3" fill="rgb(176,176,176)"/>
<ellipse cx="17.8" cy="114.9" rx="8.7" ry="5" fill="rgb(181,181,181)"/>
<ellipse cx="164.5" cy="47.9" rx="4.1" ry="3.4" fill="rgb(176,176,176)"/>
<ellipse cx="212.6" cy="8.1" rx="8.7" ry="5" fill="rgb(176,176,176)"/>
<ellipse cx="87" cy="86.1" rx="5.7" ry="5.9" fill="rgb(186,186,186)"/>
<ellipse cx="113" cy="141.9" rx="6.9" ry="5.6" fill="rgb(138,138,138)"/>
<ellipse cx="29.8" cy="41.1" rx="8.7" ry="6.4" fill="rgb(176,176,176)"/>
<ellipse cx="105.4" cy="126.5" rx="5.6" ry="4.4" fill="rgb(128,128,128)"/>
<ellipse cx="258.2" cy="20.9" rx="8.1" ry="4.1" fill="rgb(186,186,186)"/>
<ellipse cx="133.5" cy="82.3" rx="8.1" ry="5" fill="rgb(181,181,181)"/>
<ellipse cx="248.3" cy="21.8" rx="7.4" ry="7" fill="rgb(176,176,176)"/>
<ellipse cx="63" cy="119.5" rx="5.8" ry="2.8" fill="rgb(186,186,186)"/>
<ellipse cx="241" cy="7.7" rx="7.2" ry="5.5" fill="rgb(181,181,181)"/>
<ellipse cx="36.5" cy="60.3" rx="9.4" ry="7" fill="rgb(128,128,128)"/>
<ellipse cx="226.9" cy="125" rx="5" ry="3.5" fill="rgb(138,138,138)"/>
<ellipse cx="6.4" cy="134.2" rx="4" ry="3.6" fill="rgb(176,176,176)"/>
<ellipse cx="104" cy="105.9" rx="9" ry="5.6" fill="rgb(138,138,138)"/>
<ellipse cx="86.5" cy="47.6" rx="3.6" ry="4.3" fill="rgb(133,133,133)"/>
<ellipse cx="168.8" cy="24.2" rx="5.9" ry="3.8" fill="rgb(128,128,128)"/>
<ellipse cx="85.5" cy="104.1" rx="9" ry="5.2" fill="rgb(176,176,176)"/>
<ellipse cx="175.9" cy="50.5" rx="4.5" ry="3.1" fill="rgb(186,186,186)"/>
<ellipse cx="54.2" cy="79.5" rx="5.4" ry="5.5" fill="rgb(133,133,133)"/>
<ellipse cx="59.5" cy="124.4" rx="5.6" ry="3.4" fill="rgb(176,176,176)"/>
<ellipse cx="285.4" cy="19.5" rx="5.3" ry="5" fill="rgb(138,138,138)"/>
<ellipse cx="118.7" cy="55.6" rx="8.6" ry="7" fill="rgb(138,138,138)"/>
<ellipse cx="287.9" cy="4.9" rx="6.7" ry="4.9" fill="rgb(181,181,181)"/>
<ellipse cx="51.2" cy="1.3" rx="7.1" ry="5.7" fill="rgb(133,133,133)"/>
<ellipse cx="162.8" cy="63.6" rx="6.5" ry="7.2" fill="rgb(176,176,176)"/>
<ellipse cx="143.8" cy="96.8" rx="5.5" ry="3.4" fill="rgb(128,128,128)"/>
<ellipse cx="112.7" cy="17.9" rx="6.6" ry="4.4" fill="rgb(176,176,176)"/>
<ellipse cx="5.9" cy="37.1" rx="6.8" ry="3.5" fill="rgb(138,138,138)"/>
<ellipse cx="152.5" cy="95" rx="7.6" ry="5.2" fill="rgb(138,138,138)"/>
<ellipse cx="321.8" cy="122" rx="7.4" ry="5.7" fill="rgb(176,176,176)"/>
<ellipse cx="56.6" cy="53" rx="4.5" ry="3.5" fill="rgb(138,138,138)"/>
<ellipse cx="26.6" cy="56.8" rx="7.8" ry="4.9" fill="rgb(138,138,138)"/>
<ellipse cx="123.3" cy="101.6" rx="8.2" ry="4.3" fill="rgb(186,186,186)"/>
<ellipse cx="147.4" cy="119.1" rx="8.8" ry="6.4" fill="rgb(128,128,128)"/>
<ellipse cx="68.3" cy="104.3" rx="6.5" ry="6.5" fill="rgb(176,176,176)"/>
<ellipse cx="52.4" cy="30.5" rx="6.3" ry="5" fill="rgb(186,186,186)"/>
<ellipse cx="161.9" cy="91.9" rx="5" ry="3.9" fill="rgb(133,133,133)"/>
<ellipse cx="45.5" cy="97.6" rx="2.9" ry="3.1" fill="rgb(186,186,186)"/>
<ellipse cx="113.8" cy="117.1" rx="5.8" ry="4.2" fill="rgb(181,181,181)"/>
<ellipse cx="31.7" cy="26.6" rx="5.3" ry="4.5" fill="rgb(138,138,138)"/>
<ellipse cx="13.5" cy="33.3" rx="3.7" ry="3" fill="rgb(186,186,186)"/>
<ellipse cx="151.5" cy="11.7" rx="8.2" ry="4.7" fill="rgb(186,186,186)"/>
<ellipse cx="208.1" cy="136.5" rx="5.1" ry="4.3" fill="rgb(138,138,138)"/>
<ellipse cx="279.6" cy="22.9" rx="6.3" ry="5.7" fill="rgb(186,186,186)"/>
<ellipse cx="228.9" cy="21.4" rx="4.3" ry="3.7" fill="rgb(133,133,133)"/>
<ellipse cx="115.7" cy="29.9" rx="6" ry="6.6" fill="rgb(181,181,181)"/>
<ellipse cx="85.6" cy="84.7" rx="3.5" ry="3.9" fill="rgb(128,128,128)"/>
<ellipse cx="143.4" cy="42.8" rx="5" ry="4.9" fill="rgb(128,128,128)"/>
<ellipse cx="70.8" cy="34.6" rx="7.8" ry="3.9" fill="rgb(138,138,138)"/>
<ellipse cx="20.6" cy="46.1" rx="6.9" ry="4.2" fill="rgb(176,176,176)"/>
<ellipse cx="7.7" cy="130.4" rx="6.8" ry="5.3" fill="rgb(176,176,176)"/>
<ellipse cx="177.9" cy="98.1" rx="9.5" ry="7.4" fill="rgb(133,133,133)"/>
<ellipse cx="28.4" cy="119.8" rx="6.8" ry="3.6" fill="rgb(181,181,181)"/>
<ellipse cx="99.4" cy="17.8" rx="5.3" ry="3.9" fill="rgb(128,128,128)"/>
<ellipse cx="76.5" cy="96.1" rx="8.6" ry="6.1" fill="rgb(128,128,128)"/>
<ellipse cx="181.9" cy="49.6" rx="6.4" ry="5.8" fill="rgb(133,133,133)"/>
<ellipse cx="99.1" cy="142.6" rx="5.7" ry="6.3" fill="rgb(186,186,186)"/>
<ellipse cx="311.7" cy="142.3" rx="10.6" ry="5" fill="rgb(128,128,128)"/>
<ellipse cx="327.7" cy="138.6" rx="7.7" ry="5.4" fill="rgb(133,133,133)"/>
<ellipse cx="146.1" cy="20.2" rx="5.9" ry="4.1" fill="rgb(133,133,133)"/>
<ellipse cx="49.3" cy="44.8" rx="6.5" ry="5.4" fill="rgb(181,181,181)"/>
<ellipse cx="161.5" cy="4.4" rx="7.9" ry="4.6" fill="rgb(128,128,128)"/>
<ellipse cx="147.4" cy="53.9" rx="4.8" ry="4.1" fill="rgb(181,181,181)"/>
<ellipse cx="39.6" cy="5.9" rx="4.4" ry="3" fill="rgb(133,133,133)"/>
<ellipse cx="3" cy="119.1" rx="5.3" ry="3.1" fill="rgb(181,181,181)"/>
<ellipse cx="47.7" cy="36.7" rx="7.3" ry="6.5" fill="rgb(186,186,186)"/>
</g>
<g filter="url(#bl6)">
<path d="M182,58C182,53.7 193,46.2 198,42C203,37.8 205,33.7 212,33C219,32.3 230.3,36.7 240,38C249.7,39.3 260,40.7 270,41C280,41.3 292,39.8 300,40C308,40.2 315,38.3 318,42C321,45.7 319.3,56 318,62C316.7,68 312.2,73 310,78C307.8,83 308,87 305,92C302,97 295.8,102.7 292,108C288.2,113.3 289.7,121.3 282,124C274.3,126.7 254,126.3 246,124C238,121.7 238.3,114.3 234,110C229.7,105.7 224,103 220,98C216,93 213.7,85 210,80C206.3,75 202.7,71.7 198,68C193.3,64.3 182,62.3 182,58Z" fill="rgb(97,97,97)"/>
</g>
<g filter="url(#bl3_5)">
<path d="M189.5,58.3C189.5,55.6 196.9,50.3 200.7,47.1C204.4,43.9 207.7,39.5 212,39C216.3,38.5 221.6,43.1 226.4,43.9C231.2,44.7 236.3,43.6 240.8,43.9C245.3,44.2 248.8,45 253.6,45.5C258.4,46 264.3,47.1 269.6,47.1C274.9,47.1 280.3,45.5 285.6,45.5C290.9,45.5 297.1,46.8 301.6,47.1C306.2,47.4 311.3,45 312.9,47.1C314.5,49.2 312.6,55.9 311.3,59.9C310,63.9 306.4,67.1 304.8,71.1C303.2,75.1 303.2,79.9 301.6,83.9C300,87.9 297.9,91.9 295.2,95.1C292.5,98.3 288.5,99.1 285.6,103.1C282.7,107.1 283.5,116.3 277.6,119C271.7,121.7 256.5,120.8 250.4,119C244.3,117.2 244.8,111.9 240.8,107.9C236.8,103.9 230.1,99.4 226.4,95.1C222.7,90.8 221.1,86.6 218.4,82.3C215.7,78 213.2,72.7 210.3,69.5C207.4,66.3 204.2,65 200.7,63.1C197.2,61.2 189.5,61 189.5,58.3Z" fill="rgb(33,33,33)"/>
</g>
<g filter="url(#bl3)">
<ellipse cx="208.7" cy="55.1" rx="10" ry="7" fill="rgb(15,15,15)"/>
<ellipse cx="234.4" cy="75.9" rx="12" ry="8" fill="rgb(18,18,18)"/>
</g>
<g filter="url(#bl2)">
<ellipse cx="270" cy="70" rx="8" ry="6" fill="rgb(64,64,64)"/>
<ellipse cx="288" cy="60" rx="6" ry="5" fill="rgb(61,61,61)"/>
</g>
<g filter="url(#bl3)">
<path d="M248,112C252.7,110 275.5,110 280,112C284.5,114 278,121.3 275,124C272,126.7 265.8,128 262,128C258.2,128 254.3,126.7 252,124C249.7,121.3 243.3,114 248,112Z" fill="rgb(64,64,64)"/>
</g>
<g filter="url(#bl1_6)">
<path d="M-15,145.3C-12.8,129.5 -4.5,145.3 -2,145.3C0.5,145.3 -1.6,145.5 0.1,145.3C1.8,145.2 5.6,144.3 8.3,144.4C11,144.5 13.8,145.9 16.5,146.1C19.2,146.2 22.1,145.9 24.8,145.3C27.6,144.8 30.3,143.9 33,142.8C35.7,141.7 38.7,139 41.2,138.7C43.7,138.4 45.6,140.4 47.8,141.1C50,141.8 52.2,142.9 54.4,142.8C56.6,142.7 58.8,140.3 61,140.3C63.2,140.3 65.3,142 67.5,142.8C69.7,143.6 71.9,144.6 74.1,145.3C76.3,146 78.5,146.4 80.7,146.9C82.9,147.4 85.1,148.4 87.3,148.5C89.5,148.6 91.6,148 93.8,147.7C96,147.4 98.2,146.8 100.4,146.9C102.6,147 104.8,147.7 107,148.5C109.2,149.3 111.4,151.4 113.6,151.8C115.8,152.2 118,151.3 120.2,151C122.4,150.7 124.5,150.6 126.7,150.2C128.9,149.8 131.1,149.7 133.3,148.5C135.5,147.3 138,144.7 139.9,142.8C141.8,140.9 142.9,138 144.8,137C146.7,136 149.2,136.4 151.4,137C153.6,137.6 155.8,139.2 158,140.3C160.2,141.4 162.4,142.5 164.6,143.6C166.8,144.7 169,146.1 171.2,146.9C173.4,147.7 175.9,148.8 177.7,148.5C179.4,148.2 179.7,145.8 181.7,145.1C183.7,144.4 187.2,144.6 189.9,144.3C192.7,144 195.4,143.4 198.2,143.5C200.9,143.6 203.9,145.1 206.4,145.1C208.9,145.1 210.8,145.1 213,143.5C215.2,141.9 217.4,137.4 219.6,135.3C221.8,133.2 223.9,132.1 226.1,131.1C228.3,130.1 230.5,129.9 232.7,129.5C234.9,129.1 237.1,129.1 239.3,128.7C241.5,128.3 243.7,127.7 245.9,127C248.1,126.3 250.3,125.1 252.5,124.6C254.7,124 256.8,123.6 259,123.7C261.2,123.8 263.4,124.6 265.6,125.4C267.8,126.2 270,127.6 272.2,128.7C274.4,129.8 276.6,130.6 278.8,132C281,133.4 283.2,135.3 285.4,136.9C287.6,138.5 289.7,140.6 291.9,141.8C294.1,143 296.3,143.5 298.5,144.3C300.7,145.1 302.9,145.8 305.1,146.8C307.3,147.8 309.5,149 311.7,150.1C313.9,151.2 316.1,152.3 318.3,153.4C320.5,154.5 322.6,155.5 324.8,156.6C327,157.7 329.2,158.8 331.4,159.9C333.6,161 335.8,162.1 338,163.2C340.2,164.3 342.4,165.5 344.6,166.5C346.8,167.5 349.3,168.4 351.2,169C353.1,169.6 354.3,169.6 356.1,169.8C357.9,170 358.9,170 362,170C365.1,170 372.8,158.3 375,170C377.2,181.7 440,228.3 375,240C310,251.7 50,255.8 -15,240C-80,224.2 -17.2,161.1 -15,145.3Z" fill="rgb(80,80,80)"/>
</g>
<g filter="url(#bl2)">
<ellipse cx="4.5" cy="145.9" rx="4" ry="3.6" fill="rgb(158,158,158)"/>
<ellipse cx="13.1" cy="144.9" rx="2.6" ry="2.6" fill="rgb(80,80,80)"/>
<ellipse cx="21.1" cy="146.7" rx="5" ry="3.5" fill="rgb(158,158,158)"/>
<ellipse cx="31" cy="144.4" rx="4" ry="3.3" fill="rgb(158,158,158)"/>
<ellipse cx="38.2" cy="141.4" rx="4.5" ry="4.2" fill="rgb(158,158,158)"/>
<ellipse cx="45.4" cy="141.1" rx="2.9" ry="2.7" fill="rgb(158,158,158)"/>
<ellipse cx="57.6" cy="140.7" rx="5.5" ry="4.4" fill="rgb(80,80,80)"/>
<ellipse cx="68.4" cy="142.3" rx="5" ry="4.3" fill="rgb(80,80,80)"/>
<ellipse cx="77.1" cy="146.8" rx="3.9" ry="2.6" fill="rgb(158,158,158)"/>
<ellipse cx="87.6" cy="149.2" rx="3.7" ry="2.6" fill="rgb(158,158,158)"/>
<ellipse cx="99.9" cy="147.9" rx="4.4" ry="3.2" fill="rgb(158,158,158)"/>
<ellipse cx="111.7" cy="150.1" rx="4.6" ry="3.6" fill="rgb(80,80,80)"/>
<ellipse cx="125.3" cy="149.6" rx="5.8" ry="3.9" fill="rgb(80,80,80)"/>
<ellipse cx="139.3" cy="142.8" rx="2.9" ry="2.6" fill="rgb(80,80,80)"/>
<ellipse cx="146" cy="138.2" rx="5.3" ry="4" fill="rgb(158,158,158)"/>
<ellipse cx="161.4" cy="141.3" rx="3.4" ry="3.2" fill="rgb(80,80,80)"/>
<ellipse cx="171" cy="148" rx="4.3" ry="4.2" fill="rgb(158,158,158)"/>
<ellipse cx="181.4" cy="146.2" rx="2.8" ry="2.6" fill="rgb(158,158,158)"/>
<ellipse cx="189.6" cy="145.5" rx="5.2" ry="3.8" fill="rgb(158,158,158)"/>
<ellipse cx="198.7" cy="142.8" rx="3.8" ry="3.8" fill="rgb(80,80,80)"/>
<ellipse cx="207.8" cy="145.9" rx="4.3" ry="3.9" fill="rgb(158,158,158)"/>
<ellipse cx="221.7" cy="133.1" rx="6.6" ry="4.2" fill="rgb(80,80,80)"/>
<ellipse cx="230.7" cy="130.8" rx="4" ry="2.6" fill="rgb(158,158,158)"/>
<ellipse cx="242.5" cy="127.1" rx="4.2" ry="3.6" fill="rgb(80,80,80)"/>
<ellipse cx="251.8" cy="125.9" rx="5.2" ry="3.3" fill="rgb(158,158,158)"/>
<ellipse cx="259" cy="124.6" rx="4.2" ry="3" fill="rgb(158,158,158)"/>
<ellipse cx="266.3" cy="126.7" rx="5.2" ry="3.4" fill="rgb(158,158,158)"/>
<ellipse cx="273.6" cy="130.7" rx="5" ry="4.3" fill="rgb(158,158,158)"/>
<ellipse cx="284.9" cy="135.7" rx="5.9" ry="4.2" fill="rgb(80,80,80)"/>
<ellipse cx="296.4" cy="143" rx="3.3" ry="2.6" fill="rgb(80,80,80)"/>
<ellipse cx="304.3" cy="145.6" rx="5" ry="4.4" fill="rgb(80,80,80)"/>
<ellipse cx="316.1" cy="151.6" rx="4.2" ry="3.6" fill="rgb(80,80,80)"/>
<ellipse cx="327.1" cy="156.9" rx="6.7" ry="4.3" fill="rgb(80,80,80)"/>
<ellipse cx="341.9" cy="166.3" rx="4.8" ry="3.9" fill="rgb(158,158,158)"/>
<ellipse cx="357" cy="171" rx="5.1" ry="4" fill="rgb(158,158,158)"/>
</g>
<g filter="url(#bl3)">
<ellipse cx="4" cy="150.9" rx="7" ry="3" fill="rgb(74,74,74)"/>
<ellipse cx="20" cy="151.8" rx="7" ry="3" fill="rgb(74,74,74)"/>
<ellipse cx="36" cy="147.3" rx="7" ry="3" fill="rgb(74,74,74)"/>
<ellipse cx="52" cy="148.2" rx="7" ry="3" fill="rgb(74,74,74)"/>
<ellipse cx="68" cy="149" rx="7" ry="3" fill="rgb(74,74,74)"/>
<ellipse cx="84" cy="153.7" rx="7" ry="3" fill="rgb(74,74,74)"/>
<ellipse cx="100" cy="152.9" rx="7" ry="3" fill="rgb(74,74,74)"/>
<ellipse cx="116" cy="157.5" rx="7" ry="3" fill="rgb(74,74,74)"/>
<ellipse cx="132" cy="154.8" rx="7" ry="3" fill="rgb(74,74,74)"/>
<ellipse cx="148" cy="143" rx="7" ry="3" fill="rgb(74,74,74)"/>
<ellipse cx="164" cy="149.3" rx="7" ry="3" fill="rgb(74,74,74)"/>
<ellipse cx="180" cy="152.5" rx="7" ry="3" fill="rgb(74,74,74)"/>
<ellipse cx="196" cy="149.7" rx="7" ry="3" fill="rgb(74,74,74)"/>
<ellipse cx="212" cy="149.7" rx="7" ry="3" fill="rgb(74,74,74)"/>
<ellipse cx="228" cy="136.6" rx="7" ry="3" fill="rgb(74,74,74)"/>
<ellipse cx="244" cy="133.5" rx="7" ry="3" fill="rgb(74,74,74)"/>
<ellipse cx="260" cy="130" rx="7" ry="3" fill="rgb(74,74,74)"/>
<ellipse cx="276" cy="136.6" rx="7" ry="3" fill="rgb(74,74,74)"/>
<ellipse cx="292" cy="147.8" rx="7" ry="3" fill="rgb(74,74,74)"/>
<ellipse cx="308" cy="154.2" rx="7" ry="3" fill="rgb(74,74,74)"/>
<ellipse cx="324" cy="162.2" rx="7" ry="3" fill="rgb(74,74,74)"/>
<ellipse cx="340" cy="170.2" rx="7" ry="3" fill="rgb(74,74,74)"/>
<ellipse cx="356" cy="175.8" rx="7" ry="3" fill="rgb(74,74,74)"/>
</g>
<g filter="url(#bl2)">
<ellipse cx="38.2" cy="199" rx="8.5" ry="4.4" fill="rgb(69,69,69)"/>
<ellipse cx="161" cy="179.2" rx="7.6" ry="7.1" fill="rgb(69,69,69)"/>
<ellipse cx="79.9" cy="215.7" rx="4.6" ry="4.4" fill="rgb(99,99,99)"/>
<ellipse cx="53.6" cy="186.3" rx="5.7" ry="5.4" fill="rgb(59,59,59)"/>
<ellipse cx="98.1" cy="211.7" rx="5.6" ry="4.8" fill="rgb(99,99,99)"/>
<ellipse cx="33.8" cy="193.8" rx="8.5" ry="6.4" fill="rgb(69,69,69)"/>
<ellipse cx="64.9" cy="148" rx="8.2" ry="5" fill="rgb(94,94,94)"/>
<ellipse cx="223.4" cy="180.7" rx="4.2" ry="2.9" fill="rgb(59,59,59)"/>
<ellipse cx="57.9" cy="174.6" rx="7.4" ry="5" fill="rgb(64,64,64)"/>
<ellipse cx="191.5" cy="178.2" rx="5.8" ry="4.5" fill="rgb(59,59,59)"/>
<ellipse cx="91.8" cy="173.1" rx="6.1" ry="4.2" fill="rgb(99,99,99)"/>
<ellipse cx="51.3" cy="199.1" rx="4.8" ry="5.2" fill="rgb(94,94,94)"/>
<ellipse cx="7.4" cy="199.6" rx="5.2" ry="3.6" fill="rgb(99,99,99)"/>
<ellipse cx="67.6" cy="192.8" rx="5.1" ry="4" fill="rgb(59,59,59)"/>
<ellipse cx="0.1" cy="182.6" rx="7.2" ry="5.6" fill="rgb(59,59,59)"/>
<ellipse cx="12.6" cy="152.3" rx="3.7" ry="3.8" fill="rgb(69,69,69)"/>
<ellipse cx="65.3" cy="157.5" rx="6.4" ry="5.7" fill="rgb(69,69,69)"/>
<ellipse cx="11.3" cy="217.4" rx="8.5" ry="4.4" fill="rgb(64,64,64)"/>
<ellipse cx="131.2" cy="172.3" rx="8.8" ry="7.1" fill="rgb(69,69,69)"/>
<ellipse cx="174.7" cy="220" rx="3.7" ry="2.4" fill="rgb(69,69,69)"/>
<ellipse cx="32.1" cy="207.8" rx="3" ry="3.5" fill="rgb(64,64,64)"/>
<ellipse cx="92.6" cy="177.6" rx="5.9" ry="5.2" fill="rgb(69,69,69)"/>
<ellipse cx="252" cy="185.5" rx="5.4" ry="3.2" fill="rgb(64,64,64)"/>
<ellipse cx="52.5" cy="196.1" rx="4.9" ry="3.5" fill="rgb(69,69,69)"/>
<ellipse cx="356.1" cy="190" rx="8.7" ry="5.9" fill="rgb(94,94,94)"/>
<ellipse cx="95.3" cy="179.5" rx="10.1" ry="4.8" fill="rgb(99,99,99)"/>
<ellipse cx="294.7" cy="217.3" rx="4.4" ry="2.2" fill="rgb(59,59,59)"/>
<ellipse cx="296.7" cy="218.2" rx="4.3" ry="2.4" fill="rgb(64,64,64)"/>
<ellipse cx="352.3" cy="214.4" rx="5" ry="3" fill="rgb(94,94,94)"/>
<ellipse cx="257.1" cy="141.7" rx="3.3" ry="2.4" fill="rgb(99,99,99)"/>
<ellipse cx="231.2" cy="140" rx="7.5" ry="7.9" fill="rgb(69,69,69)"/>
<ellipse cx="322.5" cy="211.8" rx="5.3" ry="3.7" fill="rgb(69,69,69)"/>
<ellipse cx="10.5" cy="151.5" rx="10" ry="6.9" fill="rgb(64,64,64)"/>
<ellipse cx="187.5" cy="210.2" rx="7" ry="3.3" fill="rgb(94,94,94)"/>
<ellipse cx="121.7" cy="172.3" rx="5.7" ry="5.4" fill="rgb(94,94,94)"/>
<ellipse cx="347.8" cy="205.7" rx="6" ry="3.4" fill="rgb(99,99,99)"/>
<ellipse cx="348.7" cy="203.9" rx="6.5" ry="6.7" fill="rgb(59,59,59)"/>
<ellipse cx="310.3" cy="186.9" rx="3.8" ry="2.7" fill="rgb(69,69,69)"/>
<ellipse cx="277.3" cy="175.6" rx="5.1" ry="3.5" fill="rgb(64,64,64)"/>
<ellipse cx="257.1" cy="178.7" rx="3.5" ry="3" fill="rgb(64,64,64)"/>
<ellipse cx="270.1" cy="169.3" rx="7.1" ry="4" fill="rgb(64,64,64)"/>
<ellipse cx="218.3" cy="178.7" rx="9.7" ry="5.9" fill="rgb(69,69,69)"/>
<ellipse cx="191.1" cy="152.9" rx="6.8" ry="4.5" fill="rgb(69,69,69)"/>
<ellipse cx="132.1" cy="220.6" rx="5" ry="2.4" fill="rgb(99,99,99)"/>
<ellipse cx="275.6" cy="223.8" rx="6.9" ry="7" fill="rgb(94,94,94)"/>
<ellipse cx="211.6" cy="209.2" rx="6.4" ry="4.9" fill="rgb(99,99,99)"/>
<ellipse cx="227.3" cy="168.2" rx="7.8" ry="3.6" fill="rgb(59,59,59)"/>
<ellipse cx="109.3" cy="215.4" rx="3.5" ry="3.5" fill="rgb(59,59,59)"/>
<ellipse cx="183.4" cy="202.1" rx="7.4" ry="6" fill="rgb(94,94,94)"/>
<ellipse cx="277.4" cy="176.8" rx="8.6" ry="4.3" fill="rgb(99,99,99)"/>
<ellipse cx="293.9" cy="160.3" rx="5.5" ry="4.9" fill="rgb(99,99,99)"/>
<ellipse cx="134.9" cy="184.8" rx="4.8" ry="3.1" fill="rgb(59,59,59)"/>
<ellipse cx="28.9" cy="202.6" rx="3.9" ry="2.4" fill="rgb(59,59,59)"/>
<ellipse cx="47.8" cy="186.6" rx="5.1" ry="3.9" fill="rgb(69,69,69)"/>
<ellipse cx="43.7" cy="182.4" rx="6.5" ry="5.7" fill="rgb(59,59,59)"/>
<ellipse cx="226.5" cy="143.3" rx="4.3" ry="3.3" fill="rgb(94,94,94)"/>
<ellipse cx="72.6" cy="185.4" rx="5.8" ry="4.6" fill="rgb(64,64,64)"/>
<ellipse cx="327.9" cy="175.8" rx="5.4" ry="3" fill="rgb(69,69,69)"/>
<ellipse cx="172.4" cy="155.9" rx="9.8" ry="7.1" fill="rgb(94,94,94)"/>
<ellipse cx="54.8" cy="219.2" rx="7" ry="4.1" fill="rgb(64,64,64)"/>
<ellipse cx="288.5" cy="158.2" rx="7.7" ry="4.5" fill="rgb(99,99,99)"/>
<ellipse cx="226.8" cy="157.2" rx="3.9" ry="2.8" fill="rgb(59,59,59)"/>
<ellipse cx="70.4" cy="196.5" rx="5.6" ry="4.9" fill="rgb(64,64,64)"/>
<ellipse cx="78.8" cy="221.1" rx="5.3" ry="3.8" fill="rgb(59,59,59)"/>
<ellipse cx="196.7" cy="208.8" rx="6" ry="4.9" fill="rgb(64,64,64)"/>
<ellipse cx="267.1" cy="181.6" rx="3.5" ry="3.4" fill="rgb(69,69,69)"/>
<ellipse cx="350.8" cy="218.6" rx="8.5" ry="7.4" fill="rgb(69,69,69)"/>
<ellipse cx="330.1" cy="181.5" rx="5.5" ry="4.1" fill="rgb(94,94,94)"/>
<ellipse cx="114.2" cy="185.5" rx="6" ry="6.2" fill="rgb(69,69,69)"/>
<ellipse cx="22.7" cy="153.5" rx="3.8" ry="3.1" fill="rgb(94,94,94)"/>
<ellipse cx="236" cy="139.4" rx="8" ry="5" fill="rgb(31,31,31)"/>
<ellipse cx="257.4" cy="144.3" rx="7" ry="4" fill="rgb(51,51,51)"/>
<ellipse cx="272.2" cy="138.5" rx="6" ry="4" fill="rgb(51,51,51)"/>
<ellipse cx="288.7" cy="155" rx="6" ry="5" fill="rgb(56,56,56)"/>
<path d="M129,160 L134,160 L135,230 L128,230Z" fill="rgb(51,51,51)"/>
</g>
</g></g>
<path d="M682.5,351H1050.5 M692,351V575" stroke="#222" stroke-width="1.2" fill="none"/>
<path d="M692,341.5V351M737.2,341.5V351M782,341.5V351M826.8,341.5V351M871.5,341.5V351M916.2,341.5V351M961,341.5V351M1005.8,341.5V351M1050.5,341.5V351M682.5,395.8H692.5M682.5,440.6H692.5M682.5,485.4H692.5M682.5,530.2H692.5M682.5,575H692.5" stroke="#222" stroke-width="1.2" fill="none"/>
<text class="tk" x="693" y="335.6">0 nm</text>
<text class="tk" x="737.5" y="335.6">5</text>
<text class="tk" x="782.2" y="335.6">10</text>
<text class="tk" x="827" y="335.6">15</text>
<text class="tk" x="871.7" y="335.6">20</text>
<text class="tk" x="916.5" y="335.6">25</text>
<text class="tk" x="961.2" y="335.6">30</text>
<text class="tk" x="1006" y="335.6">35</text>
<text class="tk" x="681" y="366.9" text-anchor="end">0</text>
<text class="tk" x="681" y="411.7" text-anchor="end">5</text>
<text class="tk" x="681" y="456.5" text-anchor="end">10</text>
<text class="tk" x="681" y="501.3" text-anchor="end">15</text>
<text class="tk" x="681" y="546.1" text-anchor="end">20</text>
<rect x="1068.9" y="351" width="16.9" height="224" fill="url(#cbar)" stroke="#222" stroke-width="1.1"/>
<path d="M1085.8,351H1095.3M1085.8,388.3H1091.4M1085.8,425.7H1091.4M1085.8,463H1091.4M1085.8,500.3H1091.4M1085.8,537.7H1091.4M1085.8,575H1095.3" stroke="#222" stroke-width="1.2" fill="none"/>
<text class="tk" x="1098.5" y="366.3">1.2 nm</text>
<text class="tk" x="1098.5" y="420.9">0.8</text>
<text class="tk" x="1098.5" y="458.3">0.6</text>
<text class="tk" x="1098.5" y="495.6">0.4</text>
<text class="tk" x="1098.5" y="533">0.2</text>
<text class="tk" x="1098.5" y="570.4">0.0</text>
<path d="M880.4,458.1L1020.1,442.9M888.4,462.9L917.4,558.2" stroke="#111" stroke-width="1.5" fill="none"/>
<text class="ln" x="892" y="453.5" text-anchor="middle">1</text>
<text class="ln" x="884" y="489.6" text-anchor="middle">2</text>
<text class="pl" x="899.5" y="611.5" text-anchor="middle">(<tspan font-weight="bold">d</tspan>)</text>
<path d="M136.2,669V967.5M190.3,669V967.5M244.5,669V967.5M298.6,669V967.5M352.8,669V967.5M407,669V967.5M461.1,669V967.5M82,892.4H488.2M82,793H488.2M82,693.6H488.2" stroke="#d9d9d9" stroke-width="1" fill="none"/>
<path d="M109.1,669V967.5M163.2,669V967.5M217.4,669V967.5M271.6,669V967.5M325.7,669V967.5M379.9,669V967.5M434,669V967.5M82,942.1H488.2M82,842.7H488.2M82,743.3H488.2" stroke="#e4e4e4" stroke-width="1" stroke-dasharray="1.5,2.5" fill="none"/>
<g clip-path="url(#cpe)" fill="none" stroke-width="2.3" stroke-linejoin="round" stroke-linecap="round">
<path d="M82.2,708.4C83,708.1 85.6,706.5 87.4,706.4C89.1,706.2 90.6,708.1 92.5,707.4C94.5,706.7 96.9,703.4 98.8,702.2C100.7,701 102.2,700.6 104,700.1C105.7,699.7 107.4,700 109.2,699.6C110.9,699.2 112.3,698.5 114.4,697.5C116.4,696.6 119,694.7 121.6,693.9C124.2,693.1 127.9,693.8 129.9,692.9C132,691.9 132.4,689 134.1,688.2C135.8,687.4 137.6,687.7 140.3,688.2C143.1,688.6 148,689.1 150.7,690.8C153.5,692.4 154.2,693.7 157,698.1C159.7,702.4 164.6,711 167.4,716.8C170.1,722.5 171.2,725.6 173.6,732.3C176,739.1 179.4,750.1 181.9,757.3C184.4,764.5 186.4,769.1 188.3,775.6C190.2,782.1 191.8,789.3 193.5,796.4C195.2,803.5 197,811.1 198.7,818.2C200.4,825.3 201.3,830.3 203.9,839C206.5,847.7 211.9,862.9 214.3,870.4C216.7,877.9 216.9,879.7 218.4,883.9C220,888.1 221.9,892 223.6,895.3C225.4,898.6 227.3,900.7 228.8,903.6C230.4,906.6 231.6,909.4 233,913C234.4,916.6 235.6,921.8 237.1,925.5C238.7,929.1 240.6,932 242.3,934.8C244.1,937.6 245.8,940.3 247.5,942.1C249.3,943.8 250.6,944.3 252.7,945.2C254.8,946.1 257.7,947.4 260,947.3C262.3,947.1 264,945.2 266.2,944.2C268.5,943.1 271.3,942.2 273.5,941C275.8,939.9 277.3,938.5 279.7,937.4C282.2,936.3 286,935.6 288.1,934.3C290.1,933 290.8,931.4 292.2,929.6C293.6,927.8 295.3,924.5 296.4,923.4C297.4,922.3 297.3,922.8 298.3,922.9C299.3,922.9 300.9,922.9 302.5,923.9C304,924.8 305.9,926.8 307.7,928.6C309.4,930.3 311.1,933.2 312.9,934.3C314.6,935.4 316.7,934.8 318.1,935C319.4,935.3 319.8,935.4 321.2,935.8C322.6,936.2 324.6,937.5 326.4,937.4C328.1,937.3 329.8,936.5 331.6,935.3C333.3,934.2 335.2,932.5 336.8,930.6C338.3,928.8 339.5,927.2 340.9,924.4C342.3,921.6 343.7,917.5 345.1,914C346.5,910.6 348,906.9 349.2,903.6C350.4,900.3 351.3,897.9 352.3,894.3C353.4,890.6 354.4,886.1 355.5,881.8C356.5,877.5 357.5,874.4 358.6,868.3C359.6,862.2 360.5,852.9 361.7,845.2C362.9,837.5 364.6,828.7 365.8,822.3C367.1,815.9 367.7,811.1 369,806.8C370.2,802.4 371.6,800 373.1,796.4C374.7,792.7 376.6,788.6 378.3,784.9C380,781.3 381.6,777.8 383.5,774.5C385.4,771.3 388,766.9 389.7,765.2C391.5,763.5 392.3,764.2 393.9,764.2C395.5,764.1 397.4,764.8 399.1,764.7C400.8,764.5 403.1,763.6 404.3,763.1C405.4,762.6 404.8,762.9 406,761.8C407.1,760.7 409.4,758.7 411.2,756.6C412.9,754.5 414.3,751.6 416.4,749.4C418.4,747.1 421,745.2 423.6,743.1C426.2,741 429.9,738.8 431.9,736.9C434,735 434.5,734.1 436.1,731.7C437.7,729.3 439.7,725.5 441.3,722.3C442.9,719.2 444.1,716.5 445.5,713C446.8,709.5 448.2,705.5 449.6,701.6C451,697.6 452.4,693.1 453.8,689.1C455.2,685.1 456.5,681.1 457.9,677.7C459.3,674.2 461,670.6 462.1,668.3C463.1,666.1 463.8,664.8 464.2,664.2" stroke="#0a7d0a"/>
<path d="M82.2,699.6C83.2,699.7 86.5,700.6 88.4,700.1C90.3,699.6 91.7,698.5 93.6,696.5C95.5,694.5 97.9,689 99.8,688.2C101.7,687.4 102.9,689.9 105,691.8C107.1,693.7 110.2,698.7 112.3,699.6C114.4,700.5 115.7,698.6 117.5,697C119.2,695.5 120.9,692.1 122.7,690.3C124.4,688.4 126.1,685.8 127.9,686.1C129.6,686.4 131.5,690.5 133.1,691.8C134.6,693.1 135.7,694.5 137.2,693.9C138.8,693.3 140.5,689.9 142.4,688.2C144.3,686.5 146.6,683.6 148.6,683.5C150.7,683.4 152.8,685.3 154.9,687.7C157,690 159.4,695.6 161.1,697.5C162.8,699.4 163.9,698.6 165.3,699.1C166.7,699.6 168,699.3 169.4,700.6C170.8,702 171.5,702.8 173.6,707.4C175.7,712 178.7,716 181.9,728.2C185,740.4 190,768.9 192.5,780.8C194.9,792.7 195.1,792.6 196.6,799.5C198.2,806.4 200.1,814.7 201.8,822.3C203.5,830 205.5,838.6 207,845.2C208.6,851.8 210.1,858.3 211.2,861.8C212.2,865.3 212.2,863.2 213.2,866.2C214.3,869.2 215.7,875.4 217.4,879.7C219.1,884.1 221.6,888.9 223.6,892.2C225.7,895.5 228,897.1 229.9,899.5C231.8,901.9 233.5,905 235.1,906.8C236.6,908.5 237.7,909.5 239.2,909.9C240.8,910.2 242.7,909.9 244.4,908.8C246.1,907.8 248.1,905.7 249.6,903.6C251.2,901.6 252.2,898.4 253.8,896.4C255.3,894.4 257.4,892.7 259,891.7C260.5,890.6 261.6,891 263.1,890.1C264.7,889.3 266.6,887.5 268.3,886.5C270,885.5 271.6,885.4 273.5,883.9C275.4,882.4 277.3,879.8 279.7,877.7C282.2,875.5 285.6,871.9 288.1,870.9C290.5,869.9 292.2,871.5 294.3,871.4C296.3,871.3 298.3,870.8 300.4,870.4C302.4,870 304.9,869.1 306.6,869.1C308.4,869.2 309.4,870.3 310.8,870.9C312.2,871.5 313.2,872.2 314.9,873C316.7,873.8 319.1,874.6 321.2,875.6C323.2,876.5 325.7,878.5 327.4,878.7C329.1,878.9 330.2,878 331.6,876.6C332.9,875.2 334.2,872.5 335.7,870.4C337.3,868.3 339,866.1 340.9,864.2C342.8,862.2 345.2,860.8 347.1,858.7C349,856.6 350.8,854.7 352.3,851.4C353.9,848.1 354.9,843.1 356.5,839C358.1,834.8 360.3,829 361.7,826.5C363.1,824 363.2,824.8 364.8,823.9C366.4,823 369.3,822.8 371,821.3C372.8,819.8 373.8,818 375.2,815.1C376.6,812.1 378,808.1 379.4,803.6C380.7,799.1 381.3,797.1 383.5,788.1C385.8,779 390.1,759.6 392.9,749.4C395.6,739.1 398.6,731.2 400.1,726.5C401.6,721.8 400.7,724.4 401.8,721.3C403,718.2 405.5,711.4 407,707.8C408.6,704.2 409.8,701.6 411.2,699.5C412.6,697.4 413.6,696.4 415.3,695.3C417.1,694.3 419.8,693.9 421.6,693.2C423.3,692.6 424.3,692.6 425.7,691.7C427.1,690.8 428.5,689.2 429.9,688.1C431.3,686.9 432.6,685.5 434,684.9C435.4,684.3 436.8,684.2 438.2,684.4C439.6,684.6 441.3,685.6 442.3,686C443.4,686.3 443.4,686.9 444.4,686.5C445.5,686.1 447.2,684.5 448.6,683.4C450,682.3 451.3,681 452.7,679.7C454.1,678.4 455.5,676.9 456.9,675.6C458.3,674.3 460,672.8 461,671.9C462.1,671.1 462.3,670.5 463.1,670.4C464,670.3 465.7,671.1 466.2,671.2" stroke="#ff0000"/>
<path d="M82.2,697C83.2,696 86.1,692.9 88.4,690.8C90.6,688.6 93.4,684.9 95.7,684C97.9,683.2 99.6,685 101.9,685.6C104.1,686.2 106.7,687.2 109.2,687.7C111.6,688.1 114.4,687.7 116.4,688.2C118.5,688.7 119.4,689.7 121.6,690.8C123.9,691.9 127.9,694.7 129.9,694.9C132,695.2 132.4,693.8 134.1,692.3C135.8,690.9 138.4,687.2 140.3,686.1C142.2,685 143.8,685.5 145.5,685.6C147.3,685.7 149,686.9 150.7,686.6C152.5,686.4 153.8,685.1 155.9,684C158,683 161.1,680.3 163.2,680.2C165.3,680.1 166.7,681.4 168.4,683.5C170.1,685.6 171.7,688.2 173.6,692.9C175.5,697.5 177.6,703.2 179.8,711.6C182.1,719.9 184.5,732.1 187.1,742.7C189.7,753.4 193.3,766.3 195.6,775.6C197.9,784.9 199,791.2 200.8,798.4C202.5,805.7 204.4,813.7 206,819.2C207.5,824.8 208.7,828.7 210.1,831.7C211.5,834.6 212.7,835.3 214.3,836.9C215.8,838.4 218.1,839.7 219.5,841C220.9,842.4 221.4,842.9 222.6,845.2C223.8,847.4 225.4,850.9 226.8,854.5C228.1,858.2 229.4,864.3 230.9,867.3C232.5,870.3 234.2,871.1 236.1,872.5C238,873.9 240.4,874.5 242.3,875.6C244.2,876.7 246,879.4 247.5,879.2C249.1,879 250.3,876.7 251.7,874.5C253.1,872.4 253.6,871.6 255.8,866.2C258.1,860.8 262.9,846.8 265.2,842.1C267.4,837.4 267.8,838.3 269.4,837.9C270.9,837.6 273,839.3 274.5,840C276.1,840.7 277.3,842.3 278.7,842.1C280.1,841.9 281.6,840.2 282.9,839C284.1,837.7 284.4,836.4 286,834.8C287.5,833.2 290.8,830.6 292.2,829.6C293.6,828.6 292.8,828.8 294.2,828.6C295.5,828.3 298.3,827.5 300.4,828.1C302.5,828.6 304.7,830.4 306.6,831.7C308.5,833 310.1,834.1 311.8,835.8C313.5,837.6 315.5,840.2 317,842.1C318.6,844 319.8,846 321.2,847.3C322.6,848.6 323.8,850 325.3,849.9C326.9,849.7 328.8,848.1 330.5,846.2C332.3,844.4 334,841.2 335.7,839C337.4,836.7 339.2,834.6 340.9,832.7C342.6,830.8 344.2,829.8 346.1,827.5C348,825.3 350.4,822 352.3,819.2C354.2,816.5 355.8,813.5 357.5,810.9C359.3,808.3 360.8,806.1 362.7,803.6C364.6,801.2 367.1,799.1 369,796.4C370.9,793.6 372.6,790 374.2,787C375.7,784.1 376.9,781.8 378.3,778.7C379.7,775.6 379.4,780.8 382.5,768.3C385.5,755.8 393.6,716.1 396.6,703.6C399.7,691.1 399.2,697.1 400.8,693.2C402.3,689.4 404.2,683.9 406,680.8C407.7,677.7 409.3,676.5 411.2,674.5C413.1,672.6 415.7,670 417.4,668.8C419.1,667.6 420,667.7 421.6,667.3C423.1,666.8 425.9,666.4 426.8,666.2" stroke="#00ff00"/>
<path d="M82.2,692.3C83.2,691.9 85.6,690.9 88.4,689.7C91.2,688.6 95.7,685.9 98.8,685.6C101.9,685.2 104.7,686.6 107.1,687.7C109.5,688.7 110.9,691 113.3,691.8C115.7,692.6 119.2,692.4 121.6,692.3C124.1,692.3 125.4,691 127.9,691.3C130.3,691.6 133.8,694.1 136.2,694.4C138.6,694.8 140.3,693.9 142.4,693.4C144.5,692.9 146.9,691.3 148.6,691.3C150.4,691.3 151.1,692.3 152.8,693.4C154.5,694.5 157,696.2 159,698.1C161.1,699.9 163.2,701.7 165.3,704.3C167.4,706.9 168.7,708.3 171.5,713.6C174.3,719 178.7,726.2 181.9,736.5C185,746.8 188.1,766.8 190.4,775.6C192.7,784.4 193.9,784.8 195.6,789.1C197.3,793.4 199.2,798.4 200.8,801.6C202.3,804.7 203.4,806.1 204.9,807.8C206.5,809.5 208.2,811 210.1,811.9C212,812.9 214.1,812.8 216.4,813.5C218.6,814.2 221.7,815.2 223.6,816.1C225.5,817.1 226.4,818.4 227.8,819.2C229.2,820.1 230.6,821.3 231.9,821.3C233.3,821.3 234,821 236.1,819.2C238.2,817.5 241.6,813.2 244.4,810.9C247.2,808.7 250.8,806.7 252.7,805.7C254.6,804.7 254.5,804.9 255.8,804.9C257.2,804.9 259.3,806 261,805.7C262.8,805.4 264.5,803.9 266.2,803.1C268,802.3 269.5,802 271.4,801C273.3,800.1 275.9,797.7 277.7,797.4C279.4,797.1 280.3,798.3 281.8,799.5C283.4,800.7 285.5,802.4 287,804.7C288.6,806.9 289.8,810.8 291.2,813C292.6,815.2 293.8,816.8 295.3,817.7C296.9,818.5 298.7,818.4 300.4,818.2C302.1,817.9 303.9,817.3 305.6,816.1C307.3,814.9 309.2,812.8 310.8,810.9C312.3,809 313.4,806.8 314.9,804.7C316.5,802.6 318.6,800.3 320.1,798.4C321.7,796.5 322.7,794.8 324.3,793.2C325.8,791.7 327.7,790.8 329.5,789.1C331.2,787.4 332.8,785.1 334.7,782.9C336.6,780.6 339.2,777.5 340.9,775.6C342.6,773.7 343.7,773.2 345.1,771.4C346.5,769.7 348.4,766.8 349.2,765.2C350.1,763.6 349,764.6 350.3,761.8C351.5,759 354.4,753.2 356.5,748.3C358.6,743.5 360.6,738.8 362.7,732.7C364.8,726.7 366.9,717.5 369,711.9C371,706.4 373.3,703.3 375.2,699.5C377.1,695.7 378,692 380.4,689.1C382.8,686.1 387.5,683.1 389.7,681.8C392,680.5 392.2,681.6 393.9,681.3C395.6,681 398.1,680.6 400.1,680.3C402.2,679.9 405.2,679.4 406.4,679.2C407.5,679 406.2,679.7 407,679.2C407.8,678.8 409.6,677.6 411.2,676.6C412.7,675.7 414.7,674.2 416.4,673.5C418,672.8 419.5,672.1 421,672.3C422.6,672.4 424.1,674 425.7,674.5C427.4,675.1 429.2,675 430.9,675.6C432.6,676.2 434.2,677.3 436.1,678.2C438,679 440.9,680.5 442.3,680.8C443.8,681 443.7,679.6 444.9,679.7C446.1,679.9 448,680.9 449.6,681.8C451.3,682.8 453.1,684.5 454.8,685.5C456.5,686.4 458.4,687.3 460,687.5C461.6,687.8 462.9,687.3 464.2,687C465.5,686.7 467.2,686 467.8,685.8" stroke="#0000ff"/>
</g>
<path d="M93.1,693.6H326.6" stroke="#111" stroke-width="1.6"/>
<path d="M190.4,804.8H326.6" stroke="#111" stroke-width="1.6"/>
<path d="M190.4,844.4H326.6" stroke="#111" stroke-width="1.6"/>
<path d="M136,880H326.6" stroke="#111" stroke-width="1.6"/>
<path d="M94.4,936H326.6" stroke="#111" stroke-width="1.6"/>
<path d="M101.4,693.6V936" stroke="#111" stroke-width="1.3" marker-start="url(#ah)" marker-end="url(#ah)"/>
<path d="M142.6,693.6V880" stroke="#111" stroke-width="1.3" marker-start="url(#ah)" marker-end="url(#ah)"/>
<path d="M222.6,693.6V844.4" stroke="#111" stroke-width="1.3" marker-start="url(#ah)" marker-end="url(#ah)"/>
<path d="M298.5,693.6V804.8" stroke="#111" stroke-width="1.3" marker-start="url(#ah)" marker-end="url(#ah)"/>
<text class="an" x="227.6" y="761">0.3 nm</text>
<text class="an" x="307.1" y="761">0.22 nm</text>
<text class="an" x="149.4" y="867.3">0.37 nm</text>
<text class="an" x="111" y="922.3">0.48 nm</text>
<rect x="82" y="669" width="406.2" height="298.5" fill="none" stroke="#333" stroke-width="1.6"/>
<path d="M109.1,967.5v-3.8M109.1,669v3.8M136.2,967.5v-6.5M136.2,669v6.5M163.2,967.5v-3.8M163.2,669v3.8M190.3,967.5v-6.5M190.3,669v6.5M217.4,967.5v-3.8M217.4,669v3.8M244.5,967.5v-6.5M244.5,669v6.5M271.6,967.5v-3.8M271.6,669v3.8M298.6,967.5v-6.5M298.6,669v6.5M325.7,967.5v-3.8M325.7,669v3.8M352.8,967.5v-6.5M352.8,669v6.5M379.9,967.5v-3.8M379.9,669v3.8M407,967.5v-6.5M407,669v6.5M434,967.5v-3.8M434,669v3.8M461.1,967.5v-6.5M461.1,669v6.5M82,942.1h3.8M488.2,942.1h-3.8M82,892.4h6.5M488.2,892.4h-6.5M82,842.7h3.8M488.2,842.7h-3.8M82,793h6.5M488.2,793h-6.5M82,743.3h3.8M488.2,743.3h-3.8M82,693.6h6.5M488.2,693.6h-6.5" stroke="#333" stroke-width="1.3" fill="none"/>
<text class="bl" x="82" y="993.3" text-anchor="middle">0</text>
<text class="bl" x="136.2" y="993.3" text-anchor="middle">2</text>
<text class="bl" x="190.3" y="993.3" text-anchor="middle">4</text>
<text class="bl" x="244.5" y="993.3" text-anchor="middle">6</text>
<text class="bl" x="298.6" y="993.3" text-anchor="middle">8</text>
<text class="bl" x="352.8" y="993.3" text-anchor="middle">10</text>
<text class="bl" x="407" y="993.3" text-anchor="middle">12</text>
<text class="bl" x="461.1" y="993.3" text-anchor="middle">14</text>
<text class="bl" x="74" y="899.8" text-anchor="end">0.2</text>
<text class="bl" x="74" y="800.4" text-anchor="end">0.4</text>
<text class="bl" x="74" y="701" text-anchor="end">0.6</text>
<text class="at" x="284.5" y="1027.8" text-anchor="middle">Coordinate, nm</text>
<text class="at" transform="translate(21.5,815.7) rotate(-90)" text-anchor="middle">Height, nm</text>
<text class="lg" x="408.3" y="836.6" fill="#0000ff">+2.5 V</text>
<text class="lg" x="408.3" y="866" fill="#00ff00">+2.0 V</text>
<text class="lg" x="408.3" y="894.2" fill="#ff0000">+1.5 V</text>
<text class="lg" x="408.3" y="928" fill="#0a7d0a">+1.0 V</text>
<text class="pl" x="273.5" y="1068.5" text-anchor="middle">(<tspan font-weight="bold">e</tspan>)</text>
<path d="M763.2,669V967.5M817.3,669V967.5M871.5,669V967.5M925.6,669V967.5M979.8,669V967.5M1034,669V967.5M1088.1,669V967.5M709,892.4H1115.2M709,793H1115.2M709,693.6H1115.2" stroke="#d9d9d9" stroke-width="1" fill="none"/>
<path d="M736.1,669V967.5M790.2,669V967.5M844.4,669V967.5M898.6,669V967.5M952.7,669V967.5M1006.9,669V967.5M1061,669V967.5M709,942.1H1115.2M709,842.7H1115.2M709,743.3H1115.2" stroke="#e4e4e4" stroke-width="1" stroke-dasharray="1.5,2.5" fill="none"/>
<g clip-path="url(#cpf)" fill="none" stroke-width="2.3" stroke-linejoin="round" stroke-linecap="round">
<path d="M708.9,715.7C709.3,716.2 710.2,718.3 711.2,718.8C712.3,719.4 714,718.9 715.4,718.8C716.8,718.7 718.3,719.9 719.5,718.3C720.8,716.8 721.8,711.8 722.7,709.5C723.5,707.1 724,704.8 724.7,704.3C725.4,703.8 725.8,706.7 726.8,706.4C727.9,706 729.8,703.2 731,702.2C732.2,701.2 732.9,700.7 734.1,700.1C735.3,699.5 737,698.7 738.2,698.6C739.5,698.5 740.3,699.2 741.4,699.6C742.4,700 743.3,701.3 744.5,701.2C745.7,701.1 747.3,700.1 748.6,699.1C750,698.1 751.4,695.9 752.8,694.9C754.2,694 755.6,693.8 756.9,693.4C758.3,692.9 759.7,692.5 761.1,692.3C762.5,692.2 763.9,693.1 765.3,692.3C766.6,691.6 768,689 769.4,687.7C770.8,686.4 772.4,684.6 773.6,684.5C774.8,684.5 775.6,685.8 776.7,687.1C777.7,688.5 778.6,691.2 779.8,692.9C781,694.5 782.7,696.1 784,697C785.2,698 786,698.6 787.1,698.6C788.1,698.6 789,696.9 790.2,697C791.4,697.1 793,698.4 794.4,699.1C795.7,699.8 797.5,700.1 798.5,701.2C799.5,702.2 799.7,703.6 800.6,705.3C801.5,707.1 802.5,708.8 803.7,711.6C804.9,714.3 806.5,717.6 807.9,721.9C809.2,726.3 810.2,729.1 812,737.5C813.8,746 816.6,765.3 818.5,772.5C820.5,779.7 822.1,778.5 823.7,780.8C825.3,783 826.6,783.7 827.9,786C829.1,788.2 830.1,790.8 831,794.3C831.8,797.7 832.2,802.1 833.1,806.8C833.9,811.4 835.3,818 836.2,822.3C837,826.7 837.4,829.3 838.2,832.7C839.1,836.2 840.3,840.9 841.4,843.1C842.4,845.4 843.3,845 844.5,846.2C845.7,847.4 847.3,849.9 848.6,850.4C850,850.9 851.2,848.8 852.8,849.4C854.4,849.9 856.6,851.9 858,853.5C859.4,855.1 860.2,857 861.1,858.7C862,860.4 862.5,862.8 863.2,863.9C863.9,865 864.6,865.8 865.3,865.5C866,865.1 866.3,863.5 867.3,861.8C868.4,860.2 870.1,857.1 871.5,855.6C872.9,854 874.3,854.5 875.6,852.5C877,850.4 878.6,845.5 879.8,843.1C881,840.7 881.4,839.3 882.9,837.9C884.5,836.5 887.8,834.6 889.2,834.8C890.5,835 890.5,837.8 891.2,839C891.9,840.1 892.3,840.9 893.3,841.6C894.4,842.3 896.3,842.5 897.5,843.1C898.7,843.7 899.5,845.2 900.6,845.2C901.6,845.2 902.7,843.3 903.7,843.1C904.7,842.9 905.8,843.3 906.8,844.2C907.9,845 908.6,844.6 909.9,848.3C911.3,852 913.6,862.1 915,866.5C916.4,870.9 917.1,872 918.1,874.8C919.2,877.6 920.2,880.5 921.2,883.1C922.3,885.7 923.3,890.7 924.4,890.4C925.4,890 926.4,884.8 927.5,881C928.5,877.2 929.2,871.7 930.6,867.5C932,863.4 933.9,859.4 935.8,856.1C937.7,852.8 940.3,849.4 942,847.8C943.7,846.1 945,846.1 946.2,846.2C947.4,846.4 948.1,847.4 949.3,848.8C950.5,850.3 952.4,854.5 953.4,855.1C954.5,855.6 954.5,854.2 955.5,851.9C956.6,849.7 958.3,843 959.7,841.6C961.1,840.1 962.6,842.1 963.8,843.1C965,844.2 965.7,846.9 966.9,847.8C968.2,848.7 969.9,847.4 971.1,848.3C972.3,849.2 973.2,851 974.2,853C975.3,855 976.3,858.4 977.3,860.3C978.4,862.1 979.4,864.4 980.5,863.9C981.5,863.4 982.5,858.4 983.6,857.1C984.6,855.8 985.6,856.5 986.7,856.1C987.7,855.8 988.6,856.6 989.8,855.1C991,853.5 992.7,849.7 994,846.8C995.2,843.8 996,840.3 997.1,837.4C998.1,834.5 999.3,831 1000.2,829.1C1001.1,827.2 1001.4,825.6 1002.3,826C1003.1,826.3 1004.2,830 1005.4,831.2C1006.6,832.3 1008.3,831.9 1009.5,832.7C1010.8,833.6 1011.6,835.2 1012.7,836.4C1013.7,837.5 1014.7,839.4 1015.8,839.5C1016.8,839.6 1018.4,837.3 1018.9,836.9" stroke="#0a7d0a"/>
<path d="M708.9,719.9C709.3,719.8 710.2,720.6 711.2,719.4C712.3,718.1 714,714.8 715.4,712.6C716.8,710.4 718.4,707.6 719.5,706.4C720.7,705.2 721.3,705 722.1,705.3C723,705.7 723.8,708.4 724.7,708.4C725.7,708.5 726.6,706.9 727.9,705.8C729.1,704.8 730.8,703 732,702.2C733.2,701.4 734.1,700.8 735.1,701.2C736.2,701.5 736.9,703.9 738.2,704.3C739.6,704.7 741.9,704.5 743.4,703.8C745,703.1 746.2,701.5 747.6,700.1C749,698.7 750.5,696.1 751.8,695.5C753,694.8 753.8,696.6 754.9,696.5C755.9,696.4 756.9,695.9 758,694.9C759,694 760.2,691.7 761.1,690.8C762,689.8 762.1,689 763.2,689.2C764.2,689.4 766,690.8 767.3,691.8C768.7,692.9 769.9,694.1 771.5,695.5C773.1,696.8 775.1,699.7 776.7,700.1C778.2,700.6 779.6,698.6 780.8,698.1C782.1,697.5 782.9,698.1 784,697C785,696 786,692.7 787.1,691.8C788.1,691 789,691.7 790.2,691.8C791.4,691.9 793,692.2 794.4,692.3C795.7,692.5 797.3,692.1 798.5,692.9C799.7,693.6 800.6,694.9 801.6,697C802.7,699.1 803.9,702 804.7,705.3C805.6,708.6 806.1,712.3 806.8,716.8C807.5,721.3 808,726.3 808.9,732.3C809.8,738.4 811.1,745.9 812,753.1C812.9,760.3 813.3,767.9 814.4,775.6C815.4,783.3 817.1,793.8 818.5,799.5C819.9,805.2 821.5,805.7 822.7,809.9C823.9,814 824.9,820.6 825.8,824.4C826.6,828.2 827,830.3 827.9,832.7C828.7,835.2 830,837.4 831,839C831.9,840.5 832.7,842.1 833.6,842.1C834.4,842.1 835,841 836.2,839C837.3,836.9 838.8,831.7 840.3,829.6C841.9,827.5 844.1,826.7 845.5,826.5C846.9,826.3 847.6,827 848.6,828.6C849.7,830.1 850.5,833.6 851.8,835.8C853,838.1 854.7,840.9 855.9,842.1C857.1,843.3 858,843.3 859,843.1C860.1,842.9 860.9,841.1 862.1,841C863.4,841 865.1,842.3 866.3,842.6C867.5,842.9 868.4,842.6 869.4,843.1C870.5,843.6 871.5,845.4 872.5,845.7C873.6,846.1 874.6,846.1 875.6,845.2C876.7,844.3 877.6,841 878.8,840.5C880,840 881.5,841.8 882.9,842.1C884.3,842.3 885.9,841.9 887.1,842.1C888.3,842.3 889.2,844.5 890.2,843.1C891.2,841.7 892.3,835.8 893.3,833.8C894.4,831.8 895.4,831.4 896.4,831.2C897.5,830.9 898.5,831.1 899.5,832.2C900.6,833.3 901.6,836.5 902.7,837.9C903.7,839.3 904.6,840.9 905.8,840.5C907,840.2 908.6,837.3 909.9,835.8C911.2,834.4 912.4,832 913.6,831.7C914.7,831.3 915.7,832.2 916.7,833.8C917.6,835.3 918.4,839.7 919.3,841C920.1,842.4 920.7,842.7 921.8,842.1C922.8,841.5 924.1,839.8 925.4,837.4C926.7,835 928.4,829.3 929.5,827.5C930.7,825.8 931.1,826.6 932.1,827C933.2,827.4 934.5,829 935.8,830.1C937.1,831.3 938.3,832.8 939.9,833.8C941.6,834.7 944.3,834.5 945.6,835.8C947,837.1 947.3,839.7 948.2,841.6C949.2,843.4 950.5,845.9 951.4,846.8C952.2,847.6 952.6,848 953.4,846.8C954.3,845.5 955.6,841.7 956.6,839.5C957.5,837.2 958.1,834.6 959.2,833.2C960.2,831.9 961.8,831.6 962.8,831.2C963.7,830.7 964.2,831.4 964.9,830.6C965.6,829.9 966.1,827.6 966.9,826.5C967.8,825.4 969,824 970.1,823.9C971.1,823.8 972.1,825.5 973.2,826C974.2,826.5 975.3,826 976.3,827C977.3,828.1 978.5,830.6 979.4,832.2C980.3,833.9 980.8,836.2 981.5,836.9C982.2,837.6 982.7,837.1 983.6,836.4C984.4,835.6 985.6,833.2 986.7,832.2C987.7,831.3 988.6,831.9 989.8,830.6C991,829.4 992.6,826.3 994,824.9C995.3,823.5 996.7,823.1 998.1,822.3C999.5,821.6 1001.1,821 1002.3,820.3C1003.4,819.5 1004,817.7 1004.9,817.7C1005.7,817.6 1006.6,819.1 1007.5,819.7C1008.3,820.3 1009,821.6 1010.1,821.3C1011.1,821 1013.1,818.7 1013.7,818.2" stroke="#ff0000"/>
<path d="M708.9,686.6C709.7,686.5 711.7,686 713.3,686.1C714.9,686.2 716.9,686.6 718.5,687.1C720.1,687.7 721.5,689.3 722.7,689.2C723.9,689.1 724.6,687.5 725.8,686.6C727,685.8 728.5,684.4 729.9,684C731.3,683.7 732.7,684 734.1,684.5C735.5,685.1 736.7,686.3 738.2,687.1C739.8,688 741.9,689.5 743.4,689.7C745,690 746,688.8 747.6,688.7C749.2,688.6 751.2,688.7 752.8,689.2C754.4,689.7 755.6,691.1 756.9,691.8C758.3,692.5 759.4,692.9 761.1,693.4C762.8,693.8 765.4,694.5 767.3,694.4C769.2,694.3 770.8,693.2 772.5,692.9C774.3,692.5 775.8,692.3 777.7,692.3C779.6,692.3 782.2,692.7 784,692.9C785.7,693 786.7,693 788.1,693.4C789.5,693.7 790.9,694.5 792.3,694.9C793.7,695.4 795.4,695.3 796.4,696C797.5,696.7 797.5,697.2 798.5,699.1C799.5,701 801.3,703.9 802.7,707.4C804,710.9 805.3,715.4 806.8,719.9C808.4,724.4 810.3,728.9 812,734.4C813.7,740 815.8,746.3 817.2,753.1C818.6,760 819.2,768.7 820.6,775.6C822,782.4 824.2,787.9 825.8,794.3C827.3,800.7 828.7,808 829.9,814C831.1,820.1 832,825.8 833.1,830.6C834.1,835.5 835.1,839 836.2,843.1C837.2,847.3 838.1,851.8 839.3,855.6C840.5,859.4 842.2,863.5 843.4,866C844.7,868.4 845.2,870.3 846.6,870.1C847.9,870 850,865.5 851.8,864.9C853.5,864.4 855.4,866.9 856.9,867C858.5,867.1 859.7,866.7 861.1,865.5C862.5,864.2 863.9,861 865.3,859.7C866.6,858.4 868,858.6 869.4,857.7C870.8,856.7 871.8,854.8 873.6,854C875.3,853.2 877.7,852.9 879.8,853C881.9,853.1 884,854.1 886,854.5C888.1,855 890.4,855.8 892.3,855.6C894.2,855.3 895.9,853.2 897.5,853C899,852.8 900.2,853.4 901.6,854.5C903,855.7 904.6,858.7 905.8,859.7C907,860.8 907.7,861 908.9,860.8C910.1,860.6 911.3,858.7 913.1,858.7C914.8,858.7 917.6,860.3 919.3,860.8C921,861.2 921.9,861.1 923.3,861.3C924.7,861.5 926.1,861.7 927.5,861.8C928.9,861.9 930.2,861.4 931.6,861.8C933,862.3 934.4,863.8 935.8,864.4C937.2,865 938.7,865.8 939.9,865.5C941.1,865.1 942,863.5 943.1,862.3C944.1,861.1 944.8,859 946.2,858.2C947.6,857.3 949.6,857.4 951.4,857.1C953.1,856.9 954.7,856.8 956.6,856.6C958.5,856.5 960.9,856.3 962.8,856.1C964.7,855.9 966.3,856.1 968,855.6C969.7,855.1 971.5,853.9 973.2,853C974.9,852 976.8,849.7 978.4,849.9C979.9,850 981.1,852.5 982.5,854C983.9,855.6 985.5,858.1 986.7,859.2C987.9,860.3 988.6,860.7 989.8,860.8C991,860.9 992.6,860.1 994,859.7C995.3,859.4 997.4,858.9 998.1,858.7" stroke="#00ff00"/>
<path d="M708.9,688.7C709.7,688.9 711.9,689.9 713.3,689.7C714.7,689.6 715.9,688.4 717.5,687.7C719,686.9 721.3,685.2 722.7,685.1C724,684.9 724.6,685.8 725.8,686.6C727,687.4 728.7,689.7 729.9,689.7C731.1,689.7 732,687.7 733.1,686.6C734.1,685.6 735.1,683.6 736.2,683.5C737.2,683.4 738.2,684.9 739.3,686.1C740.3,687.3 741.5,689.3 742.4,690.8C743.4,692.3 744.1,694.5 745,694.9C745.9,695.4 746.6,694.4 747.6,693.4C748.5,692.3 749.5,690.3 750.7,688.7C751.9,687.1 753.7,684.2 754.9,683.5C756.1,682.8 756.9,683.5 758,684.5C759,685.6 760.2,688.4 761.1,689.7C762,691 762.3,692.5 763.2,692.3C764,692.2 765.3,689.8 766.3,688.7C767.3,687.6 768.4,685.8 769.4,685.6C770.5,685.3 771.5,686.1 772.5,687.1C773.6,688.2 774.6,690.3 775.6,691.8C776.7,693.3 777.7,695.3 778.8,696C779.8,696.7 780.7,696 781.9,696C783.1,696 784.7,695.5 786,696C787.4,696.5 789,698.1 790.2,699.1C791.4,700.1 792.1,701.3 793.3,702.2C794.5,703.1 796.1,703.1 797.5,704.3C798.9,705.5 800.4,707.9 801.6,709.5C802.8,711 803.5,711.4 804.7,713.6C806,715.9 807.3,718.8 808.9,723C810.5,727.1 812.4,733 814.1,738.6C815.8,744.1 817.9,750.1 819.3,756.2C820.7,762.4 821.2,768.9 822.7,775.6C824.1,782.3 826.3,789.8 827.9,796.4C829.4,802.9 830.8,809.4 832,815.1C833.2,820.8 834.1,826.5 835.1,830.6C836.2,834.8 837,838.1 838.2,840C839.5,841.9 840.7,841.8 842.4,842.1C844.1,842.3 846.9,841.5 848.6,841.6C850.4,841.6 851.4,842.8 852.8,842.6C854.2,842.4 855.7,841 856.9,840.5C858.2,840.1 858.9,839.2 860.1,840C861.3,840.8 862.8,843.5 864.2,845.2C865.6,846.9 867.2,848.7 868.4,850.4C869.6,852.1 870.3,854.5 871.5,855.6C872.7,856.7 874.3,856.3 875.6,857.1C877,858 878.4,860.3 879.8,860.8C881.2,861.3 882.6,861 884,860.3C885.3,859.5 886.7,857 888.1,856.1C889.5,855.2 891.1,854.9 892.3,855.1C893.5,855.2 894.2,857.1 895.4,857.1C896.6,857.2 898.2,856.9 899.5,855.6C900.9,854.3 902.3,850.5 903.7,849.4C905.1,848.2 906.5,848.7 907.9,848.8C909.2,849 910.6,849.6 912,850.4C913.4,851.2 914.8,853.3 916.2,853.5C917.6,853.7 919.3,852 920.3,851.4C921.3,850.8 921.4,849.9 922.3,849.9C923.1,849.9 924.4,850.2 925.4,851.4C926.4,852.6 927.6,855.5 928.5,857.1C929.5,858.8 929.9,861.4 931.1,861.3C932.3,861.2 934.5,857.7 935.8,856.6C937.1,855.5 937.9,854.6 938.9,854.5C939.9,854.5 941,855.8 942,856.1C943.1,856.5 944.1,856.4 945.1,856.6C946.2,856.9 947.2,857.7 948.2,857.7C949.3,857.7 950.2,856.8 951.4,856.6C952.6,856.5 954.3,856.3 955.5,856.6C956.7,857 957.4,858.2 958.6,858.7C959.8,859.2 961.6,860.5 962.8,859.7C964,859 964.7,855.8 965.9,854C967.1,852.2 968.9,849.4 970.1,848.8C971.3,848.3 972.1,849.5 973.2,850.9C974.2,852.3 975.3,855.7 976.3,857.1C977.3,858.6 978.5,859.2 979.4,859.7C980.4,860.3 981,861 982,860.3C983.1,859.5 984.5,856.3 985.6,855.1C986.8,853.9 987.7,853.2 988.8,853C989.8,852.8 990.8,853.2 991.9,854C992.9,854.8 994,857.1 995,857.7C996,858.3 996.9,857.8 998.1,857.7C999.3,857.5 1000.9,857.4 1002.3,856.6C1003.7,855.8 1005.2,853.4 1006.4,853C1007.6,852.6 1008.5,853.2 1009.5,854C1010.6,854.9 1011.6,857.5 1012.7,858.2C1013.7,858.9 1014.6,858.4 1015.8,858.2C1017,858 1018.4,858.4 1019.9,857.1C1021.5,855.9 1023.4,852.6 1025.1,850.9C1026.8,849.3 1028.8,847.6 1030.1,847.3C1031.5,846.9 1032.2,848.2 1033.2,848.8C1034.3,849.4 1035.8,850.6 1036.4,850.9" stroke="#0000ff"/>
</g>
<path d="M719,693.6H925.6" stroke="#111" stroke-width="1.6"/>
<path d="M719,850.2H925.6" stroke="#111" stroke-width="1.6"/>
<path d="M871,693.6V850.2" stroke="#111" stroke-width="1.3" marker-start="url(#ah)" marker-end="url(#ah)"/>
<text class="an" x="889.6" y="783.6">0.32 nm</text>
<rect x="709" y="669" width="406.2" height="298.5" fill="none" stroke="#333" stroke-width="1.6"/>
<path d="M736.1,967.5v-3.8M736.1,669v3.8M763.2,967.5v-6.5M763.2,669v6.5M790.2,967.5v-3.8M790.2,669v3.8M817.3,967.5v-6.5M817.3,669v6.5M844.4,967.5v-3.8M844.4,669v3.8M871.5,967.5v-6.5M871.5,669v6.5M898.6,967.5v-3.8M898.6,669v3.8M925.6,967.5v-6.5M925.6,669v6.5M952.7,967.5v-3.8M952.7,669v3.8M979.8,967.5v-6.5M979.8,669v6.5M1006.9,967.5v-3.8M1006.9,669v3.8M1034,967.5v-6.5M1034,669v6.5M1061,967.5v-3.8M1061,669v3.8M1088.1,967.5v-6.5M1088.1,669v6.5M709,942.1h3.8M1115.2,942.1h-3.8M709,892.4h6.5M1115.2,892.4h-6.5M709,842.7h3.8M1115.2,842.7h-3.8M709,793h6.5M1115.2,793h-6.5M709,743.3h3.8M1115.2,743.3h-3.8M709,693.6h6.5M1115.2,693.6h-6.5" stroke="#333" stroke-width="1.3" fill="none"/>
<text class="bl" x="709" y="993.3" text-anchor="middle">0</text>
<text class="bl" x="763.2" y="993.3" text-anchor="middle">2</text>
<text class="bl" x="817.3" y="993.3" text-anchor="middle">4</text>
<text class="bl" x="871.5" y="993.3" text-anchor="middle">6</text>
<text class="bl" x="925.6" y="993.3" text-anchor="middle">8</text>
<text class="bl" x="979.8" y="993.3" text-anchor="middle">10</text>
<text class="bl" x="1034" y="993.3" text-anchor="middle">12</text>
<text class="bl" x="1088.1" y="993.3" text-anchor="middle">14</text>
<text class="bl" x="701" y="899.8" text-anchor="end">0.2</text>
<text class="bl" x="701" y="800.4" text-anchor="end">0.4</text>
<text class="bl" x="701" y="701" text-anchor="end">0.6</text>
<text class="at" x="911.5" y="1027.8" text-anchor="middle">Coordinate, nm</text>
<text class="at" transform="translate(648.5,815.7) rotate(-90)" text-anchor="middle">Height, nm</text>
<text class="lg" x="1033.5" y="836.6" fill="#0000ff">+2.5 V</text>
<text class="lg" x="1033.5" y="866" fill="#00ff00">+2.0 V</text>
<text class="lg" x="1033.5" y="894.2" fill="#ff0000">+1.5 V</text>
<text class="lg" x="1033.5" y="928" fill="#0a7d0a">+1.0 V</text>
<text class="pl" x="900.5" y="1068.5" text-anchor="middle">(<tspan font-weight="bold">f</tspan>)</text>
</svg></body></html>
